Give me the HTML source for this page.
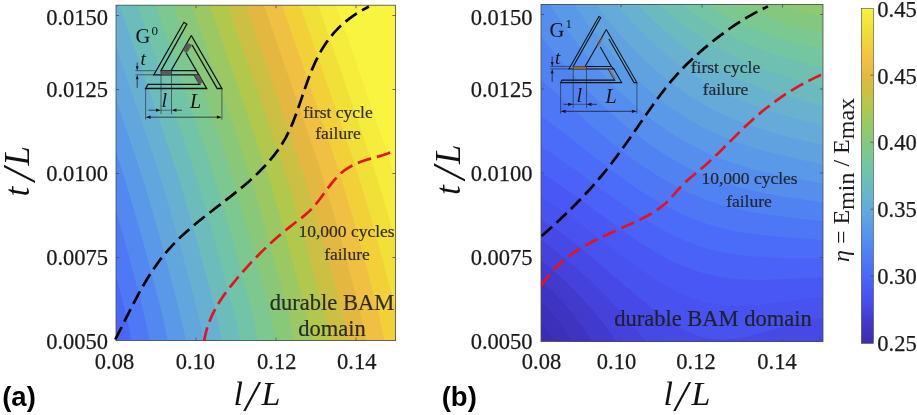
<!DOCTYPE html>
<html><head><meta charset="utf-8"><title>figure</title><style>html,body{margin:0;padding:0;background:#fff}svg{display:block}</style></head><body>
<svg width="917" height="415" viewBox="0 0 917 415">
<defs><linearGradient id="cb" x1="0" y1="0" x2="0" y2="1"><stop offset="0.0000" stop-color="#F8F440"/><stop offset="0.0180" stop-color="#F5EC3C"/><stop offset="0.0640" stop-color="#F0E038"/><stop offset="0.1100" stop-color="#F2D038"/><stop offset="0.1560" stop-color="#F0C042"/><stop offset="0.2020" stop-color="#E4B840"/><stop offset="0.2480" stop-color="#CCC044"/><stop offset="0.2940" stop-color="#B2C84C"/><stop offset="0.3400" stop-color="#9CC864"/><stop offset="0.3860" stop-color="#88C878"/><stop offset="0.4320" stop-color="#7CC890"/><stop offset="0.4780" stop-color="#72C4A8"/><stop offset="0.5240" stop-color="#6CBCBC"/><stop offset="0.5700" stop-color="#68B0D2"/><stop offset="0.6160" stop-color="#62A6DE"/><stop offset="0.6620" stop-color="#5A98E8"/><stop offset="0.7080" stop-color="#5288F0"/><stop offset="0.7540" stop-color="#4E78F6"/><stop offset="0.8000" stop-color="#4A68F8"/><stop offset="0.8340" stop-color="#495AF5"/><stop offset="0.8680" stop-color="#4850EE"/><stop offset="0.9000" stop-color="#4644E0"/><stop offset="0.9360" stop-color="#4238CC"/><stop offset="0.9680" stop-color="#3E32BC"/><stop offset="1.0000" stop-color="#3C2CB0"/></linearGradient></defs>
<rect width="917" height="415" fill="#fff"/>
<g shape-rendering="geometricPrecision"><rect x="116" y="5.2" width="279.4" height="335.4" fill="#4A68F8"/>
<path fill="#4E78F6" d="M126.0 5.2L136.0 5.2L145.9 5.2L155.9 5.2L165.9 5.2L175.9 5.2L185.8 5.2L195.8 5.2L205.8 5.2L215.8 5.2L225.8 5.2L235.7 5.2L245.7 5.2L255.7 5.2L265.7 5.2L275.7 5.2L285.6 5.2L295.6 5.2L305.6 5.2L315.6 5.2L325.5 5.2L335.5 5.2L345.5 5.2L355.5 5.2L365.5 5.2L375.4 5.2L385.4 5.2L395.4 5.2L395.4 10.2L395.4 15.2L395.4 20.2L395.4 25.2L395.4 30.2L395.4 35.2L395.4 40.2L395.4 45.2L395.4 50.3L395.4 55.3L395.4 60.3L395.4 65.3L395.4 70.3L395.4 75.3L395.4 80.3L395.4 85.3L395.4 90.3L395.4 95.3L395.4 100.3L395.4 105.3L395.4 110.3L395.4 115.3L395.4 120.3L395.4 125.3L395.4 130.3L395.4 135.4L395.4 140.4L395.4 145.4L395.4 150.4L395.4 155.4L395.4 160.4L395.4 165.4L395.4 170.4L395.4 175.4L395.4 180.4L395.4 185.4L395.4 190.4L395.4 195.4L395.4 200.4L395.4 205.4L395.4 210.4L395.4 215.5L395.4 220.5L395.4 225.5L395.4 230.5L395.4 235.5L395.4 240.5L395.4 245.5L395.4 250.5L395.4 255.5L395.4 260.5L395.4 265.5L395.4 270.5L395.4 275.5L395.4 280.5L395.4 285.5L395.4 290.5L395.4 295.5L395.4 300.6L395.4 305.6L395.4 310.6L395.4 315.6L395.4 320.6L395.4 325.6L395.4 330.6L395.4 335.6L395.4 340.6L385.4 340.6L375.4 340.6L365.5 340.6L355.5 340.6L345.5 340.6L335.5 340.6L325.5 340.6L315.6 340.6L305.6 340.6L295.6 340.6L285.6 340.6L275.7 340.6L265.7 340.6L255.7 340.6L245.7 340.6L235.7 340.6L225.8 340.6L215.8 340.6L205.8 340.6L195.8 340.6L185.8 340.6L175.9 340.6L165.9 340.6L155.9 340.6L145.9 340.6L136.0 340.6L131.4 340.6L130.5 335.6L129.6 330.6L128.5 325.6L127.4 320.6L126.3 315.6L126.0 314.3L125.1 310.6L123.8 305.6L122.5 300.6L121.2 295.5L119.9 290.5L118.6 285.5L117.2 280.5L116.0 275.9L116.0 275.5L116.0 270.5L116.0 265.5L116.0 260.5L116.0 255.5L116.0 250.5L116.0 245.5L116.0 240.5L116.0 235.5L116.0 230.5L116.0 225.5L116.0 220.5L116.0 215.5L116.0 210.4L116.0 205.4L116.0 200.4L116.0 195.4L116.0 190.4L116.0 185.4L116.0 180.4L116.0 175.4L116.0 170.4L116.0 165.4L116.0 160.4L116.0 155.4L116.0 150.4L116.0 145.4L116.0 140.4L116.0 135.4L116.0 130.3L116.0 125.3L116.0 120.3L116.0 115.3L116.0 110.3L116.0 105.3L116.0 100.3L116.0 95.3L116.0 90.3L116.0 85.3L116.0 80.3L116.0 75.3L116.0 70.3L116.0 65.3L116.0 60.3L116.0 55.3L116.0 50.3L116.0 45.2L116.0 40.2L116.0 35.2L116.0 30.2L116.0 25.2L116.0 20.2L116.0 15.2L116.0 10.2L116.0 5.2Z"/>
<path fill="#5288F0" d="M126.0 5.2L136.0 5.2L145.9 5.2L155.9 5.2L165.9 5.2L175.9 5.2L185.8 5.2L195.8 5.2L205.8 5.2L215.8 5.2L225.8 5.2L235.7 5.2L245.7 5.2L255.7 5.2L265.7 5.2L275.7 5.2L285.6 5.2L295.6 5.2L305.6 5.2L315.6 5.2L325.5 5.2L335.5 5.2L345.5 5.2L355.5 5.2L365.5 5.2L375.4 5.2L385.4 5.2L395.4 5.2L395.4 10.2L395.4 15.2L395.4 20.2L395.4 25.2L395.4 30.2L395.4 35.2L395.4 40.2L395.4 45.2L395.4 50.3L395.4 55.3L395.4 60.3L395.4 65.3L395.4 70.3L395.4 75.3L395.4 80.3L395.4 85.3L395.4 90.3L395.4 95.3L395.4 100.3L395.4 105.3L395.4 110.3L395.4 115.3L395.4 120.3L395.4 125.3L395.4 130.3L395.4 135.4L395.4 140.4L395.4 145.4L395.4 150.4L395.4 155.4L395.4 160.4L395.4 165.4L395.4 170.4L395.4 175.4L395.4 180.4L395.4 185.4L395.4 190.4L395.4 195.4L395.4 200.4L395.4 205.4L395.4 210.4L395.4 215.5L395.4 220.5L395.4 225.5L395.4 230.5L395.4 235.5L395.4 240.5L395.4 245.5L395.4 250.5L395.4 255.5L395.4 260.5L395.4 265.5L395.4 270.5L395.4 275.5L395.4 280.5L395.4 285.5L395.4 290.5L395.4 295.5L395.4 300.6L395.4 305.6L395.4 310.6L395.4 315.6L395.4 320.6L395.4 325.6L395.4 330.6L395.4 335.6L395.4 340.6L385.4 340.6L375.4 340.6L365.5 340.6L355.5 340.6L345.5 340.6L335.5 340.6L325.5 340.6L315.6 340.6L305.6 340.6L295.6 340.6L285.6 340.6L275.7 340.6L265.7 340.6L255.7 340.6L245.7 340.6L235.7 340.6L225.8 340.6L215.8 340.6L205.8 340.6L195.8 340.6L185.8 340.6L175.9 340.6L165.9 340.6L155.9 340.6L149.5 340.6L148.6 335.6L147.6 330.6L146.6 325.6L145.9 322.6L145.5 320.6L144.3 315.6L143.1 310.6L141.9 305.6L140.6 300.6L139.3 295.5L138.0 290.5L136.6 285.5L136.0 283.0L135.3 280.5L134.0 275.5L132.6 270.5L131.3 265.5L130.0 260.5L128.7 255.5L127.3 250.5L126.0 245.6L126.0 245.5L124.6 240.5L123.2 235.5L121.8 230.5L120.4 225.5L119.0 220.5L117.5 215.5L116.1 210.4L116.0 210.1L116.0 205.4L116.0 200.4L116.0 195.4L116.0 190.4L116.0 185.4L116.0 180.4L116.0 175.4L116.0 170.4L116.0 165.4L116.0 160.4L116.0 155.4L116.0 150.4L116.0 145.4L116.0 140.4L116.0 135.4L116.0 130.3L116.0 125.3L116.0 120.3L116.0 115.3L116.0 110.3L116.0 105.3L116.0 100.3L116.0 95.3L116.0 90.3L116.0 85.3L116.0 80.3L116.0 75.3L116.0 70.3L116.0 65.3L116.0 60.3L116.0 55.3L116.0 50.3L116.0 45.2L116.0 40.2L116.0 35.2L116.0 30.2L116.0 25.2L116.0 20.2L116.0 15.2L116.0 10.2L116.0 5.2Z"/>
<path fill="#5A98E8" d="M126.0 5.2L136.0 5.2L145.9 5.2L155.9 5.2L165.9 5.2L175.9 5.2L185.8 5.2L195.8 5.2L205.8 5.2L215.8 5.2L225.8 5.2L235.7 5.2L245.7 5.2L255.7 5.2L265.7 5.2L275.7 5.2L285.6 5.2L295.6 5.2L305.6 5.2L315.6 5.2L325.5 5.2L335.5 5.2L345.5 5.2L355.5 5.2L365.5 5.2L375.4 5.2L385.4 5.2L395.4 5.2L395.4 10.2L395.4 15.2L395.4 20.2L395.4 25.2L395.4 30.2L395.4 35.2L395.4 40.2L395.4 45.2L395.4 50.3L395.4 55.3L395.4 60.3L395.4 65.3L395.4 70.3L395.4 75.3L395.4 80.3L395.4 85.3L395.4 90.3L395.4 95.3L395.4 100.3L395.4 105.3L395.4 110.3L395.4 115.3L395.4 120.3L395.4 125.3L395.4 130.3L395.4 135.4L395.4 140.4L395.4 145.4L395.4 150.4L395.4 155.4L395.4 160.4L395.4 165.4L395.4 170.4L395.4 175.4L395.4 180.4L395.4 185.4L395.4 190.4L395.4 195.4L395.4 200.4L395.4 205.4L395.4 210.4L395.4 215.5L395.4 220.5L395.4 225.5L395.4 230.5L395.4 235.5L395.4 240.5L395.4 245.5L395.4 250.5L395.4 255.5L395.4 260.5L395.4 265.5L395.4 270.5L395.4 275.5L395.4 280.5L395.4 285.5L395.4 290.5L395.4 295.5L395.4 300.6L395.4 305.6L395.4 310.6L395.4 315.6L395.4 320.6L395.4 325.6L395.4 330.6L395.4 335.6L395.4 340.6L385.4 340.6L375.4 340.6L365.5 340.6L355.5 340.6L345.5 340.6L335.5 340.6L325.5 340.6L315.6 340.6L305.6 340.6L295.6 340.6L285.6 340.6L275.7 340.6L265.7 340.6L255.7 340.6L245.7 340.6L235.7 340.6L225.8 340.6L215.8 340.6L205.8 340.6L195.8 340.6L185.8 340.6L175.9 340.6L167.5 340.6L166.6 335.6L165.9 331.7L165.7 330.6L164.6 325.6L163.5 320.6L162.4 315.6L161.2 310.6L159.9 305.6L158.6 300.6L157.3 295.5L156.0 290.5L155.9 290.2L154.7 285.5L153.3 280.5L152.0 275.5L150.7 270.5L149.4 265.5L148.1 260.5L146.7 255.5L145.9 252.6L145.4 250.5L144.0 245.5L142.6 240.5L141.2 235.5L139.9 230.5L138.4 225.5L137.0 220.5L136.0 216.7L135.6 215.5L134.1 210.4L132.7 205.4L131.2 200.4L129.7 195.4L128.2 190.4L126.7 185.4L126.0 183.1L125.2 180.4L123.6 175.4L122.0 170.4L120.4 165.4L118.8 160.4L117.1 155.4L116.0 152.1L116.0 150.4L116.0 145.4L116.0 140.4L116.0 135.4L116.0 130.3L116.0 125.3L116.0 120.3L116.0 115.3L116.0 110.3L116.0 105.3L116.0 100.3L116.0 95.3L116.0 90.3L116.0 85.3L116.0 80.3L116.0 75.3L116.0 70.3L116.0 65.3L116.0 60.3L116.0 55.3L116.0 50.3L116.0 45.2L116.0 40.2L116.0 35.2L116.0 30.2L116.0 25.2L116.0 20.2L116.0 15.2L116.0 10.2L116.0 5.2Z"/>
<path fill="#62A6DE" d="M126.0 5.2L136.0 5.2L145.9 5.2L155.9 5.2L165.9 5.2L175.9 5.2L185.8 5.2L195.8 5.2L205.8 5.2L215.8 5.2L225.8 5.2L235.7 5.2L245.7 5.2L255.7 5.2L265.7 5.2L275.7 5.2L285.6 5.2L295.6 5.2L305.6 5.2L315.6 5.2L325.5 5.2L335.5 5.2L345.5 5.2L355.5 5.2L365.5 5.2L375.4 5.2L385.4 5.2L395.4 5.2L395.4 10.2L395.4 15.2L395.4 20.2L395.4 25.2L395.4 30.2L395.4 35.2L395.4 40.2L395.4 45.2L395.4 50.3L395.4 55.3L395.4 60.3L395.4 65.3L395.4 70.3L395.4 75.3L395.4 80.3L395.4 85.3L395.4 90.3L395.4 95.3L395.4 100.3L395.4 105.3L395.4 110.3L395.4 115.3L395.4 120.3L395.4 125.3L395.4 130.3L395.4 135.4L395.4 140.4L395.4 145.4L395.4 150.4L395.4 155.4L395.4 160.4L395.4 165.4L395.4 170.4L395.4 175.4L395.4 180.4L395.4 185.4L395.4 190.4L395.4 195.4L395.4 200.4L395.4 205.4L395.4 210.4L395.4 215.5L395.4 220.5L395.4 225.5L395.4 230.5L395.4 235.5L395.4 240.5L395.4 245.5L395.4 250.5L395.4 255.5L395.4 260.5L395.4 265.5L395.4 270.5L395.4 275.5L395.4 280.5L395.4 285.5L395.4 290.5L395.4 295.5L395.4 300.6L395.4 305.6L395.4 310.6L395.4 315.6L395.4 320.6L395.4 325.6L395.4 330.6L395.4 335.6L395.4 340.6L385.4 340.6L375.4 340.6L365.5 340.6L355.5 340.6L345.5 340.6L335.5 340.6L325.5 340.6L315.6 340.6L305.6 340.6L295.6 340.6L285.6 340.6L275.7 340.6L265.7 340.6L255.7 340.6L245.7 340.6L235.7 340.6L225.8 340.6L215.8 340.6L205.8 340.6L195.8 340.6L185.8 340.6L185.6 340.6L184.7 335.6L183.7 330.6L182.7 325.6L181.6 320.6L180.4 315.6L179.2 310.6L178.0 305.6L176.7 300.6L175.9 297.4L175.4 295.5L174.1 290.5L172.7 285.5L171.4 280.5L170.1 275.5L168.7 270.5L167.4 265.5L166.1 260.5L165.9 259.7L164.8 255.5L163.4 250.5L162.1 245.5L160.7 240.5L159.3 235.5L157.9 230.5L156.5 225.5L155.9 223.4L155.1 220.5L153.6 215.5L152.2 210.4L150.7 205.4L149.3 200.4L147.8 195.4L146.3 190.4L145.9 189.3L144.8 185.4L143.2 180.4L141.7 175.4L140.1 170.4L138.5 165.4L136.8 160.4L136.0 157.8L135.2 155.4L133.5 150.4L131.8 145.4L130.1 140.4L128.3 135.4L126.6 130.3L126.0 128.5L124.9 125.3L123.1 120.3L121.4 115.3L119.7 110.3L117.9 105.3L116.2 100.3L116.0 99.7L116.0 95.3L116.0 90.3L116.0 85.3L116.0 80.3L116.0 75.3L116.0 70.3L116.0 65.3L116.0 60.3L116.0 55.3L116.0 50.3L116.0 45.2L116.0 40.2L116.0 35.2L116.0 30.2L116.0 25.2L116.0 20.2L116.0 15.2L116.0 10.2L116.0 5.2Z"/>
<path fill="#68B0D2" d="M126.0 5.2L136.0 5.2L145.9 5.2L155.9 5.2L165.9 5.2L175.9 5.2L185.8 5.2L195.8 5.2L205.8 5.2L215.8 5.2L225.8 5.2L235.7 5.2L245.7 5.2L255.7 5.2L265.7 5.2L275.7 5.2L285.6 5.2L295.6 5.2L305.6 5.2L315.6 5.2L325.5 5.2L335.5 5.2L345.5 5.2L355.5 5.2L365.5 5.2L375.4 5.2L385.4 5.2L395.4 5.2L395.4 10.2L395.4 15.2L395.4 20.2L395.4 25.2L395.4 30.2L395.4 35.2L395.4 40.2L395.4 45.2L395.4 50.3L395.4 55.3L395.4 60.3L395.4 65.3L395.4 70.3L395.4 75.3L395.4 80.3L395.4 85.3L395.4 90.3L395.4 95.3L395.4 100.3L395.4 105.3L395.4 110.3L395.4 115.3L395.4 120.3L395.4 125.3L395.4 130.3L395.4 135.4L395.4 140.4L395.4 145.4L395.4 150.4L395.4 155.4L395.4 160.4L395.4 165.4L395.4 170.4L395.4 175.4L395.4 180.4L395.4 185.4L395.4 190.4L395.4 195.4L395.4 200.4L395.4 205.4L395.4 210.4L395.4 215.5L395.4 220.5L395.4 225.5L395.4 230.5L395.4 235.5L395.4 240.5L395.4 245.5L395.4 250.5L395.4 255.5L395.4 260.5L395.4 265.5L395.4 270.5L395.4 275.5L395.4 280.5L395.4 285.5L395.4 290.5L395.4 295.5L395.4 300.6L395.4 305.6L395.4 310.6L395.4 315.6L395.4 320.6L395.4 325.6L395.4 330.6L395.4 335.6L395.4 340.6L385.4 340.6L375.4 340.6L365.5 340.6L355.5 340.6L345.5 340.6L335.5 340.6L325.5 340.6L315.6 340.6L305.6 340.6L295.6 340.6L285.6 340.6L275.7 340.6L265.7 340.6L255.7 340.6L245.7 340.6L235.7 340.6L225.8 340.6L215.8 340.6L205.8 340.6L203.6 340.6L202.7 335.6L201.8 330.6L200.7 325.6L199.6 320.6L198.5 315.6L197.3 310.6L196.0 305.6L195.8 304.8L194.7 300.6L193.4 295.5L192.1 290.5L190.8 285.5L189.4 280.5L188.1 275.5L186.8 270.5L185.8 266.9L185.5 265.5L184.2 260.5L182.8 255.5L181.5 250.5L180.1 245.5L178.7 240.5L177.3 235.5L176.0 230.5L175.9 230.2L174.5 225.5L173.1 220.5L171.7 215.5L170.2 210.4L168.8 205.4L167.3 200.4L165.9 195.7L165.8 195.4L164.3 190.4L162.8 185.4L161.3 180.4L159.7 175.4L158.1 170.4L156.5 165.4L155.9 163.6L154.9 160.4L153.2 155.4L151.5 150.4L149.8 145.4L148.1 140.4L146.4 135.4L145.9 134.0L144.7 130.3L142.9 125.3L141.2 120.3L139.5 115.3L137.7 110.3L136.0 105.3L136.0 105.2L134.3 100.3L132.6 95.3L130.8 90.3L129.1 85.3L127.4 80.3L126.0 76.1L125.7 75.3L124.0 70.3L122.3 65.3L120.5 60.3L118.8 55.3L117.1 50.3L116.0 47.1L116.0 45.2L116.0 40.2L116.0 35.2L116.0 30.2L116.0 25.2L116.0 20.2L116.0 15.2L116.0 10.2L116.0 5.2Z"/>
<path fill="#6CBCBC" d="M126.0 5.2L136.0 5.2L145.9 5.2L155.9 5.2L165.9 5.2L175.9 5.2L185.8 5.2L195.8 5.2L205.8 5.2L215.8 5.2L225.8 5.2L235.7 5.2L245.7 5.2L255.7 5.2L265.7 5.2L275.7 5.2L285.6 5.2L295.6 5.2L305.6 5.2L315.6 5.2L325.5 5.2L335.5 5.2L345.5 5.2L355.5 5.2L365.5 5.2L375.4 5.2L385.4 5.2L395.4 5.2L395.4 10.2L395.4 15.2L395.4 20.2L395.4 25.2L395.4 30.2L395.4 35.2L395.4 40.2L395.4 45.2L395.4 50.3L395.4 55.3L395.4 60.3L395.4 65.3L395.4 70.3L395.4 75.3L395.4 80.3L395.4 85.3L395.4 90.3L395.4 95.3L395.4 100.3L395.4 105.3L395.4 110.3L395.4 115.3L395.4 120.3L395.4 125.3L395.4 130.3L395.4 135.4L395.4 140.4L395.4 145.4L395.4 150.4L395.4 155.4L395.4 160.4L395.4 165.4L395.4 170.4L395.4 175.4L395.4 180.4L395.4 185.4L395.4 190.4L395.4 195.4L395.4 200.4L395.4 205.4L395.4 210.4L395.4 215.5L395.4 220.5L395.4 225.5L395.4 230.5L395.4 235.5L395.4 240.5L395.4 245.5L395.4 250.5L395.4 255.5L395.4 260.5L395.4 265.5L395.4 270.5L395.4 275.5L395.4 280.5L395.4 285.5L395.4 290.5L395.4 295.5L395.4 300.6L395.4 305.6L395.4 310.6L395.4 315.6L395.4 320.6L395.4 325.6L395.4 330.6L395.4 335.6L395.4 340.6L385.4 340.6L375.4 340.6L365.5 340.6L355.5 340.6L345.5 340.6L335.5 340.6L325.5 340.6L315.6 340.6L305.6 340.6L295.6 340.6L285.6 340.6L275.7 340.6L265.7 340.6L255.7 340.6L245.7 340.6L235.7 340.6L225.8 340.6L221.7 340.6L220.8 335.6L219.8 330.6L218.8 325.6L217.7 320.6L216.5 315.6L215.8 312.5L215.3 310.6L214.1 305.6L212.8 300.6L211.5 295.5L210.2 290.5L208.8 285.5L207.5 280.5L206.2 275.5L205.8 274.2L204.8 270.5L203.5 265.5L202.2 260.5L200.9 255.5L199.5 250.5L198.2 245.5L196.8 240.5L195.8 237.0L195.4 235.5L194.0 230.5L192.6 225.5L191.2 220.5L189.7 215.5L188.3 210.4L186.8 205.4L185.8 202.1L185.4 200.4L183.9 195.4L182.4 190.4L180.9 185.4L179.3 180.4L177.8 175.4L176.2 170.4L175.9 169.5L174.6 165.4L172.9 160.4L171.3 155.4L169.6 150.4L167.9 145.4L166.2 140.4L165.9 139.6L164.4 135.4L162.7 130.3L161.0 125.3L159.2 120.3L157.5 115.3L155.9 110.7L155.8 110.3L154.0 105.3L152.3 100.3L150.6 95.3L148.9 90.3L147.2 85.3L145.9 81.7L145.5 80.3L143.8 75.3L142.0 70.3L140.3 65.3L138.6 60.3L136.9 55.3L136.0 52.7L135.1 50.3L133.4 45.2L131.7 40.2L129.9 35.2L128.2 30.2L126.4 25.2L126.0 23.9L124.7 20.2L123.0 15.2L121.2 10.2L119.5 5.2Z"/>
<path fill="#72C4A8" d="M145.9 5.2L155.9 5.2L165.9 5.2L175.9 5.2L185.8 5.2L195.8 5.2L205.8 5.2L215.8 5.2L225.8 5.2L235.7 5.2L245.7 5.2L255.7 5.2L265.7 5.2L275.7 5.2L285.6 5.2L295.6 5.2L305.6 5.2L315.6 5.2L325.5 5.2L335.5 5.2L345.5 5.2L355.5 5.2L365.5 5.2L375.4 5.2L385.4 5.2L395.4 5.2L395.4 10.2L395.4 15.2L395.4 20.2L395.4 25.2L395.4 30.2L395.4 35.2L395.4 40.2L395.4 45.2L395.4 50.3L395.4 55.3L395.4 60.3L395.4 65.3L395.4 70.3L395.4 75.3L395.4 80.3L395.4 85.3L395.4 90.3L395.4 95.3L395.4 100.3L395.4 105.3L395.4 110.3L395.4 115.3L395.4 120.3L395.4 125.3L395.4 130.3L395.4 135.4L395.4 140.4L395.4 145.4L395.4 150.4L395.4 155.4L395.4 160.4L395.4 165.4L395.4 170.4L395.4 175.4L395.4 180.4L395.4 185.4L395.4 190.4L395.4 195.4L395.4 200.4L395.4 205.4L395.4 210.4L395.4 215.5L395.4 220.5L395.4 225.5L395.4 230.5L395.4 235.5L395.4 240.5L395.4 245.5L395.4 250.5L395.4 255.5L395.4 260.5L395.4 265.5L395.4 270.5L395.4 275.5L395.4 280.5L395.4 285.5L395.4 290.5L395.4 295.5L395.4 300.6L395.4 305.6L395.4 310.6L395.4 315.6L395.4 320.6L395.4 325.6L395.4 330.6L395.4 335.6L395.4 340.6L385.4 340.6L375.4 340.6L365.5 340.6L355.5 340.6L345.5 340.6L335.5 340.6L325.5 340.6L315.6 340.6L305.6 340.6L295.6 340.6L285.6 340.6L275.7 340.6L265.7 340.6L255.7 340.6L245.7 340.6L239.7 340.6L238.8 335.6L237.9 330.6L236.8 325.6L235.7 320.6L235.7 320.6L234.6 315.6L233.4 310.6L232.1 305.6L230.8 300.6L229.5 295.5L228.2 290.5L226.9 285.5L225.8 281.4L225.5 280.5L224.2 275.5L222.9 270.5L221.6 265.5L220.3 260.5L218.9 255.5L217.6 250.5L216.2 245.5L215.8 244.0L214.8 240.5L213.4 235.5L212.1 230.5L210.6 225.5L209.2 220.5L207.8 215.5L206.3 210.4L205.8 208.6L204.9 205.4L203.4 200.4L201.9 195.4L200.4 190.4L198.9 185.4L197.4 180.4L195.8 175.5L195.8 175.4L194.2 170.4L192.6 165.4L191.0 160.4L189.3 155.4L187.6 150.4L185.9 145.4L185.8 145.1L184.2 140.4L182.5 135.4L180.8 130.3L179.0 125.3L177.3 120.3L175.9 116.2L175.6 115.3L173.8 110.3L172.1 105.3L170.4 100.3L168.7 95.3L166.9 90.3L165.9 87.2L165.2 85.3L163.5 80.3L161.8 75.3L160.1 70.3L158.4 65.3L156.6 60.3L155.9 58.2L154.9 55.3L153.2 50.3L151.4 45.2L149.7 40.2L148.0 35.2L146.2 30.2L145.9 29.4L144.5 25.2L142.8 20.2L141.0 15.2L139.3 10.2L137.5 5.2Z"/>
<path fill="#7CC890" d="M155.9 5.2L165.9 5.2L175.9 5.2L185.8 5.2L195.8 5.2L205.8 5.2L215.8 5.2L225.8 5.2L235.7 5.2L245.7 5.2L255.7 5.2L265.7 5.2L275.7 5.2L285.6 5.2L295.6 5.2L305.6 5.2L315.6 5.2L325.5 5.2L335.5 5.2L345.5 5.2L355.5 5.2L365.5 5.2L375.4 5.2L385.4 5.2L395.4 5.2L395.4 10.2L395.4 15.2L395.4 20.2L395.4 25.2L395.4 30.2L395.4 35.2L395.4 40.2L395.4 45.2L395.4 50.3L395.4 55.3L395.4 60.3L395.4 65.3L395.4 70.3L395.4 75.3L395.4 80.3L395.4 85.3L395.4 90.3L395.4 95.3L395.4 100.3L395.4 105.3L395.4 110.3L395.4 115.3L395.4 120.3L395.4 125.3L395.4 130.3L395.4 135.4L395.4 140.4L395.4 145.4L395.4 150.4L395.4 155.4L395.4 160.4L395.4 165.4L395.4 170.4L395.4 175.4L395.4 180.4L395.4 185.4L395.4 190.4L395.4 195.4L395.4 200.4L395.4 205.4L395.4 210.4L395.4 215.5L395.4 220.5L395.4 225.5L395.4 230.5L395.4 235.5L395.4 240.5L395.4 245.5L395.4 250.5L395.4 255.5L395.4 260.5L395.4 265.5L395.4 270.5L395.4 275.5L395.4 280.5L395.4 285.5L395.4 290.5L395.4 295.5L395.4 300.6L395.4 305.6L395.4 310.6L395.4 315.6L395.4 320.6L395.4 325.6L395.4 330.6L395.4 335.6L395.4 340.6L385.4 340.6L375.4 340.6L365.5 340.6L355.5 340.6L345.5 340.6L335.5 340.6L325.5 340.6L315.6 340.6L305.6 340.6L295.6 340.6L285.6 340.6L275.7 340.6L265.7 340.6L257.8 340.6L256.9 335.6L255.9 330.6L255.7 329.5L254.9 325.6L253.8 320.6L252.6 315.6L251.4 310.6L250.2 305.6L248.9 300.6L247.6 295.5L246.3 290.5L245.7 288.5L244.9 285.5L243.6 280.5L242.3 275.5L240.9 270.5L239.6 265.5L238.3 260.5L237.0 255.5L235.7 251.0L235.6 250.5L234.3 245.5L232.9 240.5L231.5 235.5L230.1 230.5L228.7 225.5L227.3 220.5L225.8 215.5L225.8 215.2L224.4 210.4L222.9 205.4L221.5 200.4L220.0 195.4L218.5 190.4L217.0 185.4L215.8 181.6L215.4 180.4L213.9 175.4L212.3 170.4L210.7 165.4L209.0 160.4L207.4 155.4L205.8 150.8L205.7 150.4L204.0 145.4L202.3 140.4L200.5 135.4L198.8 130.3L197.1 125.3L195.8 121.7L195.3 120.3L193.6 115.3L191.9 110.3L190.1 105.3L188.4 100.3L186.7 95.3L185.8 92.8L185.0 90.3L183.3 85.3L181.6 80.3L179.9 75.3L178.1 70.3L176.4 65.3L175.9 63.7L174.7 60.3L173.0 55.3L171.2 50.3L169.5 45.2L167.8 40.2L166.0 35.2L165.9 34.9L164.3 30.2L162.5 25.2L160.8 20.2L159.1 15.2L157.3 10.2L155.9 6.2L155.6 5.2Z"/>
<path fill="#88C878" d="M175.9 5.2L185.8 5.2L195.8 5.2L205.8 5.2L215.8 5.2L225.8 5.2L235.7 5.2L245.7 5.2L255.7 5.2L265.7 5.2L275.7 5.2L285.6 5.2L295.6 5.2L305.6 5.2L315.6 5.2L325.5 5.2L335.5 5.2L345.5 5.2L355.5 5.2L365.5 5.2L375.4 5.2L385.4 5.2L395.4 5.2L395.4 10.2L395.4 15.2L395.4 20.2L395.4 25.2L395.4 30.2L395.4 35.2L395.4 40.2L395.4 45.2L395.4 50.3L395.4 55.3L395.4 60.3L395.4 65.3L395.4 70.3L395.4 75.3L395.4 80.3L395.4 85.3L395.4 90.3L395.4 95.3L395.4 100.3L395.4 105.3L395.4 110.3L395.4 115.3L395.4 120.3L395.4 125.3L395.4 130.3L395.4 135.4L395.4 140.4L395.4 145.4L395.4 150.4L395.4 155.4L395.4 160.4L395.4 165.4L395.4 170.4L395.4 175.4L395.4 180.4L395.4 185.4L395.4 190.4L395.4 195.4L395.4 200.4L395.4 205.4L395.4 210.4L395.4 215.5L395.4 220.5L395.4 225.5L395.4 230.5L395.4 235.5L395.4 240.5L395.4 245.5L395.4 250.5L395.4 255.5L395.4 260.5L395.4 265.5L395.4 270.5L395.4 275.5L395.4 280.5L395.4 285.5L395.4 290.5L395.4 295.5L395.4 300.6L395.4 305.6L395.4 310.6L395.4 315.6L395.4 320.6L395.4 325.6L395.4 330.6L395.4 335.6L395.4 340.6L385.4 340.6L375.4 340.6L365.5 340.6L355.5 340.6L345.5 340.6L335.5 340.6L325.5 340.6L315.6 340.6L305.6 340.6L295.6 340.6L285.6 340.6L275.8 340.6L275.7 339.7L274.9 335.6L274.0 330.6L272.9 325.6L271.8 320.6L270.7 315.6L269.5 310.6L268.2 305.6L266.9 300.6L265.7 295.7L265.6 295.5L264.3 290.5L263.0 285.5L261.6 280.5L260.3 275.5L259.0 270.5L257.7 265.5L256.4 260.5L255.7 258.1L255.0 255.5L253.7 250.5L252.3 245.5L250.9 240.5L249.5 235.5L248.2 230.5L246.7 225.5L245.7 221.8L245.3 220.5L243.9 215.5L242.4 210.4L241.0 205.4L239.5 200.4L238.0 195.4L236.5 190.4L235.7 187.9L235.0 185.4L233.5 180.4L231.9 175.4L230.3 170.4L228.7 165.4L227.1 160.4L225.8 156.5L225.4 155.4L223.7 150.4L222.0 145.4L220.3 140.4L218.6 135.4L216.9 130.3L215.8 127.2L215.1 125.3L213.4 120.3L211.7 115.3L209.9 110.3L208.2 105.3L206.5 100.3L205.8 98.4L204.8 95.3L203.0 90.3L201.3 85.3L199.6 80.3L197.9 75.3L196.2 70.3L195.8 69.3L194.5 65.3L192.7 60.3L191.0 55.3L189.3 50.3L187.5 45.2L185.8 40.4L185.8 40.2L184.1 35.2L182.3 30.2L180.6 25.2L178.9 20.2L177.1 15.2L175.9 11.6L175.4 10.2L173.6 5.2Z"/>
<path fill="#9CC864" d="M195.8 5.2L205.8 5.2L215.8 5.2L225.8 5.2L235.7 5.2L245.7 5.2L255.7 5.2L265.7 5.2L275.7 5.2L285.6 5.2L295.6 5.2L305.6 5.2L315.6 5.2L325.5 5.2L335.5 5.2L345.5 5.2L355.5 5.2L365.5 5.2L375.4 5.2L385.4 5.2L395.4 5.2L395.4 10.2L395.4 15.2L395.4 20.2L395.4 25.2L395.4 30.2L395.4 35.2L395.4 40.2L395.4 45.2L395.4 50.3L395.4 55.3L395.4 60.3L395.4 65.3L395.4 70.3L395.4 75.3L395.4 80.3L395.4 85.3L395.4 90.3L395.4 95.3L395.4 100.3L395.4 105.3L395.4 110.3L395.4 115.3L395.4 120.3L395.4 125.3L395.4 130.3L395.4 135.4L395.4 140.4L395.4 145.4L395.4 150.4L395.4 155.4L395.4 160.4L395.4 165.4L395.4 170.4L395.4 175.4L395.4 180.4L395.4 185.4L395.4 190.4L395.4 195.4L395.4 200.4L395.4 205.4L395.4 210.4L395.4 215.5L395.4 220.5L395.4 225.5L395.4 230.5L395.4 235.5L395.4 240.5L395.4 245.5L395.4 250.5L395.4 255.5L395.4 260.5L395.4 265.5L395.4 270.5L395.4 275.5L395.4 280.5L395.4 285.5L395.4 290.5L395.4 295.5L395.4 300.6L395.4 305.6L395.4 310.6L395.4 315.6L395.4 320.6L395.4 325.6L395.4 330.6L395.4 335.6L395.4 340.6L385.4 340.6L375.4 340.6L365.5 340.6L355.5 340.6L345.5 340.6L335.5 340.6L325.5 340.6L315.6 340.6L305.6 340.6L295.6 340.6L293.9 340.6L293.0 335.6L292.0 330.6L291.0 325.6L289.9 320.6L288.7 315.6L287.5 310.6L286.3 305.6L285.6 303.1L285.0 300.6L283.7 295.5L282.4 290.5L281.0 285.5L279.7 280.5L278.4 275.5L277.0 270.5L275.7 265.5L275.7 265.2L274.4 260.5L273.1 255.5L271.7 250.5L270.4 245.5L269.0 240.5L267.6 235.5L266.2 230.5L265.7 228.6L264.8 225.5L263.4 220.5L261.9 215.5L260.5 210.4L259.0 205.4L257.6 200.4L256.1 195.4L255.7 194.2L254.6 190.4L253.1 185.4L251.5 180.4L250.0 175.4L248.4 170.4L246.8 165.4L245.7 162.2L245.1 160.4L243.5 155.4L241.8 150.4L240.1 145.4L238.4 140.4L236.6 135.4L235.7 132.7L234.9 130.3L233.2 125.3L231.4 120.3L229.7 115.3L228.0 110.3L226.2 105.3L225.8 103.9L224.5 100.3L222.8 95.3L221.1 90.3L219.4 85.3L217.7 80.3L216.0 75.3L215.8 74.8L214.2 70.3L212.5 65.3L210.8 60.3L209.1 55.3L207.3 50.3L205.8 45.9L205.6 45.2L203.9 40.2L202.1 35.2L200.4 30.2L198.6 25.2L196.9 20.2L195.8 17.1L195.2 15.2L193.4 10.2L191.7 5.2Z"/>
<path fill="#B2C84C" d="M215.8 5.2L225.8 5.2L235.7 5.2L245.7 5.2L255.7 5.2L265.7 5.2L275.7 5.2L285.6 5.2L295.6 5.2L305.6 5.2L315.6 5.2L325.5 5.2L335.5 5.2L345.5 5.2L355.5 5.2L365.5 5.2L375.4 5.2L385.4 5.2L395.4 5.2L395.4 10.2L395.4 15.2L395.4 20.2L395.4 25.2L395.4 30.2L395.4 35.2L395.4 40.2L395.4 45.2L395.4 50.3L395.4 55.3L395.4 60.3L395.4 65.3L395.4 70.3L395.4 75.3L395.4 80.3L395.4 85.3L395.4 90.3L395.4 95.3L395.4 100.3L395.4 105.3L395.4 110.3L395.4 115.3L395.4 120.3L395.4 125.3L395.4 130.3L395.4 135.4L395.4 140.4L395.4 145.4L395.4 150.4L395.4 155.4L395.4 160.4L395.4 165.4L395.4 170.4L395.4 175.4L395.4 180.4L395.4 185.4L395.4 190.4L395.4 195.4L395.4 200.4L395.4 205.4L395.4 210.4L395.4 215.5L395.4 220.5L395.4 225.5L395.4 230.5L395.4 235.5L395.4 240.5L395.4 245.5L395.4 250.5L395.4 255.5L395.4 260.5L395.4 265.5L395.4 270.5L395.4 275.5L395.4 280.5L395.4 285.5L395.4 290.5L395.4 295.5L395.4 300.6L395.4 305.6L395.4 310.6L395.4 315.6L395.4 320.6L395.4 325.6L395.4 330.6L395.4 335.6L395.4 340.6L385.4 340.6L375.4 340.6L365.5 340.6L355.5 340.6L345.5 340.6L335.5 340.6L325.5 340.6L315.6 340.6L311.9 340.6L311.0 335.6L310.1 330.6L309.0 325.6L307.9 320.6L306.8 315.6L305.6 310.7L305.6 310.6L304.3 305.6L303.0 300.6L301.7 295.5L300.4 290.5L299.1 285.5L297.7 280.5L296.4 275.5L295.6 272.5L295.1 270.5L293.8 265.5L292.5 260.5L291.1 255.5L289.8 250.5L288.4 245.5L287.0 240.5L285.6 235.5L285.6 235.4L284.3 230.5L282.8 225.5L281.4 220.5L280.0 215.5L278.5 210.4L277.1 205.4L275.7 200.6L275.6 200.4L274.1 195.4L272.6 190.4L271.1 185.4L269.6 180.4L268.0 175.4L266.4 170.4L265.7 168.1L264.8 165.4L263.2 160.4L261.5 155.4L259.8 150.4L258.1 145.4L256.4 140.4L255.7 138.3L254.7 135.4L253.0 130.3L251.2 125.3L249.5 120.3L247.8 115.3L246.0 110.3L245.7 109.4L244.3 105.3L242.6 100.3L240.9 95.3L239.1 90.3L237.4 85.3L235.7 80.4L235.7 80.3L234.0 75.3L232.3 70.3L230.6 65.3L228.8 60.3L227.1 55.3L225.8 51.4L225.4 50.3L223.6 45.2L221.9 40.2L220.2 35.2L218.4 30.2L216.7 25.2L215.8 22.6L215.0 20.2L213.2 15.2L211.5 10.2L209.7 5.2Z"/>
<path fill="#CCC044" d="M235.7 5.2L245.7 5.2L255.7 5.2L265.7 5.2L275.7 5.2L285.6 5.2L295.6 5.2L305.6 5.2L315.6 5.2L325.5 5.2L335.5 5.2L345.5 5.2L355.5 5.2L365.5 5.2L375.4 5.2L385.4 5.2L395.4 5.2L395.4 10.2L395.4 15.2L395.4 20.2L395.4 25.2L395.4 30.2L395.4 35.2L395.4 40.2L395.4 45.2L395.4 50.3L395.4 55.3L395.4 60.3L395.4 65.3L395.4 70.3L395.4 75.3L395.4 80.3L395.4 85.3L395.4 90.3L395.4 95.3L395.4 100.3L395.4 105.3L395.4 110.3L395.4 115.3L395.4 120.3L395.4 125.3L395.4 130.3L395.4 135.4L395.4 140.4L395.4 145.4L395.4 150.4L395.4 155.4L395.4 160.4L395.4 165.4L395.4 170.4L395.4 175.4L395.4 180.4L395.4 185.4L395.4 190.4L395.4 195.4L395.4 200.4L395.4 205.4L395.4 210.4L395.4 215.5L395.4 220.5L395.4 225.5L395.4 230.5L395.4 235.5L395.4 240.5L395.4 245.5L395.4 250.5L395.4 255.5L395.4 260.5L395.4 265.5L395.4 270.5L395.4 275.5L395.4 280.5L395.4 285.5L395.4 290.5L395.4 295.5L395.4 300.6L395.4 305.6L395.4 310.6L395.4 315.6L395.4 320.6L395.4 325.6L395.4 330.6L395.4 335.6L395.4 340.6L385.4 340.6L375.4 340.6L365.5 340.6L355.5 340.6L345.5 340.6L335.5 340.6L330.0 340.6L329.1 335.6L328.1 330.6L327.1 325.6L326.0 320.6L325.5 318.7L324.8 315.6L323.6 310.6L322.4 305.6L321.1 300.6L319.8 295.5L318.5 290.5L317.1 285.5L315.8 280.5L315.6 279.7L314.5 275.5L313.1 270.5L311.8 265.5L310.5 260.5L309.2 255.5L307.8 250.5L306.5 245.5L305.6 242.4L305.1 240.5L303.7 235.5L302.3 230.5L300.9 225.5L299.5 220.5L298.0 215.5L296.6 210.4L295.6 207.1L295.1 205.4L293.7 200.4L292.2 195.4L290.7 190.4L289.2 185.4L287.6 180.4L286.1 175.4L285.6 174.1L284.5 170.4L282.9 165.4L281.2 160.4L279.6 155.4L277.9 150.4L276.2 145.4L275.7 143.8L274.5 140.4L272.7 135.4L271.0 130.3L269.3 125.3L267.5 120.3L265.8 115.3L265.7 114.9L264.1 110.3L262.3 105.3L260.6 100.3L258.9 95.3L257.2 90.3L255.7 85.9L255.5 85.3L253.8 80.3L252.1 75.3L250.3 70.3L248.6 65.3L246.9 60.3L245.7 56.9L245.2 55.3L243.4 50.3L241.7 45.2L240.0 40.2L238.2 35.2L236.5 30.2L235.7 28.1L234.7 25.2L233.0 20.2L231.3 15.2L229.5 10.2L227.8 5.2Z"/>
<path fill="#E4B840" d="M255.7 5.2L265.7 5.2L275.7 5.2L285.6 5.2L295.6 5.2L305.6 5.2L315.6 5.2L325.5 5.2L335.5 5.2L345.5 5.2L355.5 5.2L365.5 5.2L375.4 5.2L385.4 5.2L395.4 5.2L395.4 10.2L395.4 15.2L395.4 20.2L395.4 25.2L395.4 30.2L395.4 35.2L395.4 40.2L395.4 45.2L395.4 50.3L395.4 55.3L395.4 60.3L395.4 65.3L395.4 70.3L395.4 75.3L395.4 80.3L395.4 85.3L395.4 90.3L395.4 95.3L395.4 100.3L395.4 105.3L395.4 110.3L395.4 115.3L395.4 120.3L395.4 125.3L395.4 130.3L395.4 135.4L395.4 140.4L395.4 145.4L395.4 150.4L395.4 155.4L395.4 160.4L395.4 165.4L395.4 170.4L395.4 175.4L395.4 180.4L395.4 185.4L395.4 190.4L395.4 195.4L395.4 200.4L395.4 205.4L395.4 210.4L395.4 215.5L395.4 220.5L395.4 225.5L395.4 230.5L395.4 235.5L395.4 240.5L395.4 245.5L395.4 250.5L395.4 255.5L395.4 260.5L395.4 265.5L395.4 270.5L395.4 275.5L395.4 280.5L395.4 285.5L395.4 290.5L395.4 295.5L395.4 300.6L395.4 305.6L395.4 310.6L395.4 315.6L395.4 320.6L395.4 325.6L395.4 330.6L395.4 335.6L395.4 340.6L385.4 340.6L375.4 340.6L365.5 340.6L355.5 340.6L348.0 340.6L347.1 335.6L346.2 330.6L345.5 327.3L345.1 325.6L344.0 320.6L342.9 315.6L341.7 310.6L340.4 305.6L339.1 300.6L337.8 295.5L336.5 290.5L335.5 286.9L335.2 285.5L333.8 280.5L332.5 275.5L331.2 270.5L329.9 265.5L328.6 260.5L327.2 255.5L325.9 250.5L325.5 249.3L324.5 245.5L323.1 240.5L321.7 235.5L320.4 230.5L318.9 225.5L317.5 220.5L316.1 215.5L315.6 213.6L314.6 210.4L313.2 205.4L311.7 200.4L310.2 195.4L308.7 190.4L307.2 185.4L305.7 180.4L305.6 180.2L304.1 175.4L302.5 170.4L300.9 165.4L299.3 160.4L297.6 155.4L295.9 150.4L295.6 149.5L294.2 145.4L292.5 140.4L290.8 135.4L289.1 130.3L287.3 125.3L285.6 120.4L285.6 120.3L283.9 115.3L282.1 110.3L280.4 105.3L278.7 100.3L277.0 95.3L275.7 91.5L275.2 90.3L273.5 85.3L271.8 80.3L270.1 75.3L268.4 70.3L266.7 65.3L265.7 62.4L264.9 60.3L263.2 55.3L261.5 50.3L259.7 45.2L258.0 40.2L256.3 35.2L255.7 33.6L254.5 30.2L252.8 25.2L251.1 20.2L249.3 15.2L247.6 10.2L245.8 5.2Z"/>
<path fill="#F0C042" d="M265.7 5.2L275.7 5.2L285.6 5.2L295.6 5.2L305.6 5.2L315.6 5.2L325.5 5.2L335.5 5.2L345.5 5.2L355.5 5.2L365.5 5.2L375.4 5.2L385.4 5.2L395.4 5.2L395.4 10.2L395.4 15.2L395.4 20.2L395.4 25.2L395.4 30.2L395.4 35.2L395.4 40.2L395.4 45.2L395.4 50.3L395.4 55.3L395.4 60.3L395.4 65.3L395.4 70.3L395.4 75.3L395.4 80.3L395.4 85.3L395.4 90.3L395.4 95.3L395.4 100.3L395.4 105.3L395.4 110.3L395.4 115.3L395.4 120.3L395.4 125.3L395.4 130.3L395.4 135.4L395.4 140.4L395.4 145.4L395.4 150.4L395.4 155.4L395.4 160.4L395.4 165.4L395.4 170.4L395.4 175.4L395.4 180.4L395.4 185.4L395.4 190.4L395.4 195.4L395.4 200.4L395.4 205.4L395.4 210.4L395.4 215.5L395.4 220.5L395.4 225.5L395.4 230.5L395.4 235.5L395.4 240.5L395.4 245.5L395.4 250.5L395.4 255.5L395.4 260.5L395.4 265.5L395.4 270.5L395.4 275.5L395.4 280.5L395.4 285.5L395.4 290.5L395.4 295.5L395.4 300.6L395.4 305.6L395.4 310.6L395.4 315.6L395.4 320.6L395.4 325.6L395.4 330.6L395.4 335.6L395.4 340.6L385.4 340.6L375.4 340.6L366.1 340.6L365.5 337.2L365.2 335.6L364.2 330.6L363.2 325.6L362.1 320.6L360.9 315.6L359.7 310.6L358.5 305.6L357.2 300.6L355.9 295.5L355.5 294.1L354.6 290.5L353.2 285.5L351.9 280.5L350.6 275.5L349.2 270.5L347.9 265.5L346.6 260.5L345.5 256.4L345.3 255.5L343.9 250.5L342.6 245.5L341.2 240.5L339.8 235.5L338.4 230.5L337.0 225.5L335.6 220.5L335.5 220.3L334.1 215.5L332.7 210.4L331.2 205.4L329.8 200.4L328.3 195.4L326.8 190.4L325.5 186.4L325.3 185.4L323.7 180.4L322.2 175.4L320.6 170.4L319.0 165.4L317.3 160.4L315.7 155.4L315.6 155.1L314.0 150.4L312.3 145.4L310.6 140.4L308.8 135.4L307.1 130.3L305.6 125.9L305.4 125.3L303.6 120.3L301.9 115.3L300.2 110.3L298.4 105.3L296.7 100.3L295.6 97.1L295.0 95.3L293.3 90.3L291.6 85.3L289.9 80.3L288.2 75.3L286.4 70.3L285.6 68.0L284.7 65.3L283.0 60.3L281.3 55.3L279.5 50.3L277.8 45.2L276.1 40.2L275.7 39.1L274.3 35.2L272.6 30.2L270.8 25.2L269.1 20.2L267.4 15.2L265.7 10.4L265.6 10.2L263.9 5.2Z"/>
<path fill="#F2D038" d="M285.6 5.2L295.6 5.2L305.6 5.2L315.6 5.2L325.5 5.2L335.5 5.2L345.5 5.2L355.5 5.2L365.5 5.2L375.4 5.2L385.4 5.2L395.4 5.2L395.4 10.2L395.4 15.2L395.4 20.2L395.4 25.2L395.4 30.2L395.4 35.2L395.4 40.2L395.4 45.2L395.4 50.3L395.4 55.3L395.4 60.3L395.4 65.3L395.4 70.3L395.4 75.3L395.4 80.3L395.4 85.3L395.4 90.3L395.4 95.3L395.4 100.3L395.4 105.3L395.4 110.3L395.4 115.3L395.4 120.3L395.4 125.3L395.4 130.3L395.4 135.4L395.4 140.4L395.4 145.4L395.4 150.4L395.4 155.4L395.4 160.4L395.4 165.4L395.4 170.4L395.4 175.4L395.4 180.4L395.4 185.4L395.4 190.4L395.4 195.4L395.4 200.4L395.4 205.4L395.4 210.4L395.4 215.5L395.4 220.5L395.4 225.5L395.4 230.5L395.4 235.5L395.4 240.5L395.4 245.5L395.4 250.5L395.4 255.5L395.4 260.5L395.4 265.5L395.4 270.5L395.4 275.5L395.4 280.5L395.4 285.5L395.4 290.5L395.4 295.5L395.4 300.6L395.4 305.6L395.4 310.6L395.4 315.6L395.4 320.6L395.4 325.6L395.4 330.6L395.4 335.6L395.4 340.6L385.4 340.6L384.1 340.6L383.2 335.6L382.3 330.6L381.2 325.6L380.1 320.6L379.0 315.6L377.8 310.6L376.5 305.6L375.4 301.4L375.2 300.6L373.9 295.5L372.6 290.5L371.3 285.5L369.9 280.5L368.6 275.5L367.3 270.5L366.0 265.5L365.5 263.6L364.7 260.5L363.3 255.5L362.0 250.5L360.6 245.5L359.2 240.5L357.8 235.5L356.5 230.5L355.5 227.0L355.0 225.5L353.6 220.5L352.2 215.5L350.7 210.4L349.3 205.4L347.8 200.4L346.3 195.4L345.5 192.7L344.8 190.4L343.3 185.4L341.8 180.4L340.2 175.4L338.6 170.4L337.0 165.4L335.5 160.9L335.4 160.4L333.7 155.4L332.0 150.4L330.3 145.4L328.6 140.4L326.9 135.4L325.5 131.4L325.2 130.3L323.4 125.3L321.7 120.3L320.0 115.3L318.2 110.3L316.5 105.3L315.6 102.6L314.8 100.3L313.1 95.3L311.3 90.3L309.6 85.3L307.9 80.3L306.2 75.3L305.6 73.5L304.5 70.3L302.8 65.3L301.0 60.3L299.3 55.3L297.6 50.3L295.8 45.2L295.6 44.6L294.1 40.2L292.4 35.2L290.6 30.2L288.9 25.2L287.2 20.2L285.6 15.8L285.4 15.2L283.7 10.2L281.9 5.2Z"/>
<path fill="#F0E038" d="M305.6 5.2L315.6 5.2L325.5 5.2L335.5 5.2L345.5 5.2L355.5 5.2L365.5 5.2L375.4 5.2L385.4 5.2L395.4 5.2L395.4 10.2L395.4 15.2L395.4 20.2L395.4 25.2L395.4 30.2L395.4 35.2L395.4 40.2L395.4 45.2L395.4 50.3L395.4 55.3L395.4 60.3L395.4 65.3L395.4 70.3L395.4 75.3L395.4 80.3L395.4 85.3L395.4 90.3L395.4 95.3L395.4 100.3L395.4 105.3L395.4 110.3L395.4 115.3L395.4 120.3L395.4 125.3L395.4 130.3L395.4 135.4L395.4 140.4L395.4 145.4L395.4 150.4L395.4 155.4L395.4 160.4L395.4 165.4L395.4 170.4L395.4 175.4L395.4 180.4L395.4 185.4L395.4 190.4L395.4 195.4L395.4 200.4L395.4 205.4L395.4 210.4L395.4 215.5L395.4 220.5L395.4 225.5L395.4 230.5L395.4 235.5L395.4 240.5L395.4 245.5L395.4 250.5L395.4 255.5L395.4 260.5L395.4 265.5L395.4 270.5L395.4 275.5L395.4 280.5L395.4 285.5L395.4 290.5L395.4 295.5L395.4 300.6L395.4 305.6L395.4 308.9L394.6 305.6L393.3 300.6L392.0 295.5L390.7 290.5L389.3 285.5L388.0 280.5L386.7 275.5L385.4 270.8L385.3 270.5L384.0 265.5L382.7 260.5L381.4 255.5L380.0 250.5L378.7 245.5L377.3 240.5L375.9 235.5L375.4 233.8L374.5 230.5L373.1 225.5L371.7 220.5L370.2 215.5L368.8 210.4L367.3 205.4L365.9 200.4L365.5 199.1L364.4 195.4L362.9 190.4L361.4 185.4L359.8 180.4L358.3 175.4L356.7 170.4L355.5 166.7L355.1 165.4L353.4 160.4L351.8 155.4L350.1 150.4L348.4 145.4L346.7 140.4L345.5 137.0L344.9 135.4L343.2 130.3L341.5 125.3L339.7 120.3L338.0 115.3L336.3 110.3L335.5 108.2L334.5 105.3L332.8 100.3L331.1 95.3L329.4 90.3L327.7 85.3L326.0 80.3L325.5 79.1L324.3 75.3L322.5 70.3L320.8 65.3L319.1 60.3L317.4 55.3L315.6 50.3L315.6 50.1L313.9 45.2L312.2 40.2L310.4 35.2L308.7 30.2L306.9 25.2L305.6 21.3L305.2 20.2L303.5 15.2L301.7 10.2L300.0 5.2Z"/>
<path fill="#F5EC3C" d="M325.5 5.2L335.5 5.2L345.5 5.2L355.5 5.2L365.5 5.2L375.4 5.2L385.4 5.2L395.4 5.2L395.4 10.2L395.4 15.2L395.4 20.2L395.4 25.2L395.4 30.2L395.4 35.2L395.4 40.2L395.4 45.2L395.4 50.3L395.4 55.3L395.4 60.3L395.4 65.3L395.4 70.3L395.4 75.3L395.4 80.3L395.4 85.3L395.4 90.3L395.4 95.3L395.4 100.3L395.4 105.3L395.4 110.3L395.4 115.3L395.4 120.3L395.4 125.3L395.4 130.3L395.4 135.4L395.4 140.4L395.4 145.4L395.4 150.4L395.4 155.4L395.4 160.4L395.4 165.4L395.4 170.4L395.4 175.4L395.4 180.4L395.4 185.4L395.4 190.4L395.4 195.4L395.4 200.4L395.4 205.4L395.4 210.4L395.4 215.5L395.4 220.5L395.4 225.5L395.4 230.5L395.4 235.5L395.4 240.5L395.4 240.7L395.3 240.5L393.9 235.5L392.6 230.5L391.1 225.5L389.7 220.5L388.3 215.5L386.8 210.4L385.4 205.6L385.4 205.4L383.9 200.4L382.4 195.4L380.9 190.4L379.4 185.4L377.9 180.4L376.3 175.4L375.4 172.7L374.7 170.4L373.1 165.4L371.5 160.4L369.8 155.4L368.1 150.4L366.4 145.4L365.5 142.5L364.7 140.4L363.0 135.4L361.3 130.3L359.5 125.3L357.8 120.3L356.1 115.3L355.5 113.7L354.3 110.3L352.6 105.3L350.9 100.3L349.2 95.3L347.4 90.3L345.7 85.3L345.5 84.6L344.0 80.3L342.3 75.3L340.6 70.3L338.9 65.3L337.1 60.3L335.5 55.6L335.4 55.3L333.7 50.3L331.9 45.2L330.2 40.2L328.5 35.2L326.7 30.2L325.5 26.8L325.0 25.2L323.3 20.2L321.5 15.2L319.8 10.2L318.0 5.2Z"/>
<path fill="#F8F440" d="M345.5 5.2L355.5 5.2L365.5 5.2L375.4 5.2L385.4 5.2L395.4 5.2L395.4 10.2L395.4 15.2L395.4 20.2L395.4 25.2L395.4 30.2L395.4 35.2L395.4 40.2L395.4 45.2L395.4 50.3L395.4 55.3L395.4 60.3L395.4 65.3L395.4 70.3L395.4 75.3L395.4 80.3L395.4 85.3L395.4 90.3L395.4 95.3L395.4 100.3L395.4 105.3L395.4 110.3L395.4 115.3L395.4 120.3L395.4 125.3L395.4 130.3L395.4 135.4L395.4 140.4L395.4 145.4L395.4 150.4L395.4 155.4L395.4 160.4L395.4 165.4L395.4 170.4L395.4 175.4L395.4 178.7L394.4 175.4L392.8 170.4L391.2 165.4L389.5 160.4L387.9 155.4L386.2 150.4L385.4 148.2L384.5 145.4L382.8 140.4L381.0 135.4L379.3 130.3L377.6 125.3L375.8 120.3L375.4 119.2L374.1 115.3L372.4 110.3L370.6 105.3L368.9 100.3L367.2 95.3L365.5 90.3L365.5 90.2L363.8 85.3L362.1 80.3L360.4 75.3L358.6 70.3L356.9 65.3L355.5 61.1L355.2 60.3L353.5 55.3L351.7 50.3L350.0 45.2L348.3 40.2L346.5 35.2L345.5 32.3L344.8 30.2L343.0 25.2L341.3 20.2L339.6 15.2L337.8 10.2L336.1 5.2Z"/></g>
<g><rect x="541" y="4.5" width="282" height="337" fill="#3C2CB0"/>
<path fill="#3D30B8" d="M547.0 4.5L553.0 4.5L559.0 4.5L565.0 4.5L571.0 4.5L577.0 4.5L583.0 4.5L589.0 4.5L595.0 4.5L601.0 4.5L607.0 4.5L613.0 4.5L619.0 4.5L625.0 4.5L631.0 4.5L637.0 4.5L643.0 4.5L649.0 4.5L655.0 4.5L661.0 4.5L667.0 4.5L673.0 4.5L679.0 4.5L685.0 4.5L691.0 4.5L697.0 4.5L703.0 4.5L709.0 4.5L715.0 4.5L721.0 4.5L727.0 4.5L733.0 4.5L739.0 4.5L745.0 4.5L751.0 4.5L757.0 4.5L763.0 4.5L769.0 4.5L775.0 4.5L781.0 4.5L787.0 4.5L793.0 4.5L799.0 4.5L805.0 4.5L811.0 4.5L817.0 4.5L823.0 4.5L823.0 10.5L823.0 16.5L823.0 22.6L823.0 28.6L823.0 34.6L823.0 40.6L823.0 46.6L823.0 52.6L823.0 58.7L823.0 64.7L823.0 70.7L823.0 76.7L823.0 82.7L823.0 88.8L823.0 94.8L823.0 100.8L823.0 106.8L823.0 112.8L823.0 118.8L823.0 124.9L823.0 130.9L823.0 136.9L823.0 142.9L823.0 148.9L823.0 154.9L823.0 161.0L823.0 167.0L823.0 173.0L823.0 179.0L823.0 185.0L823.0 191.1L823.0 197.1L823.0 203.1L823.0 209.1L823.0 215.1L823.0 221.1L823.0 227.2L823.0 233.2L823.0 239.2L823.0 245.2L823.0 251.2L823.0 257.2L823.0 263.3L823.0 269.3L823.0 275.3L823.0 281.3L823.0 287.3L823.0 293.4L823.0 299.4L823.0 305.4L823.0 311.4L823.0 317.4L823.0 323.4L823.0 329.5L823.0 335.5L823.0 341.5L817.0 341.5L811.0 341.5L805.0 341.5L799.0 341.5L793.0 341.5L787.0 341.5L781.0 341.5L775.0 341.5L769.0 341.5L763.0 341.5L757.0 341.5L751.0 341.5L745.0 341.5L739.0 341.5L733.0 341.5L727.0 341.5L721.0 341.5L715.0 341.5L709.0 341.5L703.0 341.5L697.0 341.5L691.0 341.5L685.0 341.5L679.0 341.5L673.0 341.5L667.0 341.5L661.0 341.5L655.0 341.5L649.0 341.5L643.0 341.5L637.0 341.5L631.0 341.5L625.0 341.5L619.0 341.5L613.0 341.5L607.0 341.5L601.0 341.5L595.0 341.5L589.0 341.5L583.0 341.5L577.0 341.5L571.0 341.5L565.0 341.5L559.0 341.5L554.7 341.5L553.0 338.9L550.8 335.5L547.0 330.1L546.5 329.5L542.0 323.4L541.0 322.3L541.0 317.4L541.0 311.4L541.0 305.4L541.0 299.4L541.0 293.4L541.0 287.3L541.0 281.3L541.0 275.3L541.0 269.3L541.0 263.3L541.0 257.2L541.0 251.2L541.0 245.2L541.0 239.2L541.0 233.2L541.0 227.2L541.0 221.1L541.0 215.1L541.0 209.1L541.0 203.1L541.0 197.1L541.0 191.1L541.0 185.0L541.0 179.0L541.0 173.0L541.0 167.0L541.0 161.0L541.0 154.9L541.0 148.9L541.0 142.9L541.0 136.9L541.0 130.9L541.0 124.9L541.0 118.8L541.0 112.8L541.0 106.8L541.0 100.8L541.0 94.8L541.0 88.8L541.0 82.7L541.0 76.7L541.0 70.7L541.0 64.7L541.0 58.7L541.0 52.6L541.0 46.6L541.0 40.6L541.0 34.6L541.0 28.6L541.0 22.6L541.0 16.5L541.0 10.5L541.0 4.5Z"/>
<path fill="#3F34C2" d="M547.0 4.5L553.0 4.5L559.0 4.5L565.0 4.5L571.0 4.5L577.0 4.5L583.0 4.5L589.0 4.5L595.0 4.5L601.0 4.5L607.0 4.5L613.0 4.5L619.0 4.5L625.0 4.5L631.0 4.5L637.0 4.5L643.0 4.5L649.0 4.5L655.0 4.5L661.0 4.5L667.0 4.5L673.0 4.5L679.0 4.5L685.0 4.5L691.0 4.5L697.0 4.5L703.0 4.5L709.0 4.5L715.0 4.5L721.0 4.5L727.0 4.5L733.0 4.5L739.0 4.5L745.0 4.5L751.0 4.5L757.0 4.5L763.0 4.5L769.0 4.5L775.0 4.5L781.0 4.5L787.0 4.5L793.0 4.5L799.0 4.5L805.0 4.5L811.0 4.5L817.0 4.5L823.0 4.5L823.0 10.5L823.0 16.5L823.0 22.6L823.0 28.6L823.0 34.6L823.0 40.6L823.0 46.6L823.0 52.6L823.0 58.7L823.0 64.7L823.0 70.7L823.0 76.7L823.0 82.7L823.0 88.8L823.0 94.8L823.0 100.8L823.0 106.8L823.0 112.8L823.0 118.8L823.0 124.9L823.0 130.9L823.0 136.9L823.0 142.9L823.0 148.9L823.0 154.9L823.0 161.0L823.0 167.0L823.0 173.0L823.0 179.0L823.0 185.0L823.0 191.1L823.0 197.1L823.0 203.1L823.0 209.1L823.0 215.1L823.0 221.1L823.0 227.2L823.0 233.2L823.0 239.2L823.0 245.2L823.0 251.2L823.0 257.2L823.0 263.3L823.0 269.3L823.0 275.3L823.0 281.3L823.0 287.3L823.0 293.4L823.0 299.4L823.0 305.4L823.0 311.4L823.0 317.4L823.0 323.4L823.0 329.5L823.0 335.5L823.0 341.5L817.0 341.5L811.0 341.5L805.0 341.5L799.0 341.5L793.0 341.5L787.0 341.5L781.0 341.5L775.0 341.5L769.0 341.5L763.0 341.5L757.0 341.5L751.0 341.5L745.0 341.5L739.0 341.5L733.0 341.5L727.0 341.5L721.0 341.5L715.0 341.5L709.0 341.5L703.0 341.5L697.0 341.5L691.0 341.5L685.0 341.5L679.0 341.5L673.0 341.5L667.0 341.5L661.0 341.5L655.0 341.5L649.0 341.5L643.0 341.5L637.0 341.5L631.0 341.5L625.0 341.5L619.0 341.5L613.0 341.5L607.0 341.5L601.0 341.5L595.0 341.5L589.0 341.5L583.0 341.5L577.0 341.5L572.3 341.5L571.0 339.4L568.6 335.5L565.0 330.1L564.6 329.5L560.2 323.4L559.0 321.8L555.6 317.4L553.0 314.3L550.6 311.4L547.0 307.4L545.2 305.4L541.0 301.0L541.0 299.4L541.0 293.4L541.0 287.3L541.0 281.3L541.0 275.3L541.0 269.3L541.0 263.3L541.0 257.2L541.0 251.2L541.0 245.2L541.0 239.2L541.0 233.2L541.0 227.2L541.0 221.1L541.0 215.1L541.0 209.1L541.0 203.1L541.0 197.1L541.0 191.1L541.0 185.0L541.0 179.0L541.0 173.0L541.0 167.0L541.0 161.0L541.0 154.9L541.0 148.9L541.0 142.9L541.0 136.9L541.0 130.9L541.0 124.9L541.0 118.8L541.0 112.8L541.0 106.8L541.0 100.8L541.0 94.8L541.0 88.8L541.0 82.7L541.0 76.7L541.0 70.7L541.0 64.7L541.0 58.7L541.0 52.6L541.0 46.6L541.0 40.6L541.0 34.6L541.0 28.6L541.0 22.6L541.0 16.5L541.0 10.5L541.0 4.5Z"/>
<path fill="#4239CD" d="M547.0 4.5L553.0 4.5L559.0 4.5L565.0 4.5L571.0 4.5L577.0 4.5L583.0 4.5L589.0 4.5L595.0 4.5L601.0 4.5L607.0 4.5L613.0 4.5L619.0 4.5L625.0 4.5L631.0 4.5L637.0 4.5L643.0 4.5L649.0 4.5L655.0 4.5L661.0 4.5L667.0 4.5L673.0 4.5L679.0 4.5L685.0 4.5L691.0 4.5L697.0 4.5L703.0 4.5L709.0 4.5L715.0 4.5L721.0 4.5L727.0 4.5L733.0 4.5L739.0 4.5L745.0 4.5L751.0 4.5L757.0 4.5L763.0 4.5L769.0 4.5L775.0 4.5L781.0 4.5L787.0 4.5L793.0 4.5L799.0 4.5L805.0 4.5L811.0 4.5L817.0 4.5L823.0 4.5L823.0 10.5L823.0 16.5L823.0 22.6L823.0 28.6L823.0 34.6L823.0 40.6L823.0 46.6L823.0 52.6L823.0 58.7L823.0 64.7L823.0 70.7L823.0 76.7L823.0 82.7L823.0 88.8L823.0 94.8L823.0 100.8L823.0 106.8L823.0 112.8L823.0 118.8L823.0 124.9L823.0 130.9L823.0 136.9L823.0 142.9L823.0 148.9L823.0 154.9L823.0 161.0L823.0 167.0L823.0 173.0L823.0 179.0L823.0 185.0L823.0 191.1L823.0 197.1L823.0 203.1L823.0 209.1L823.0 215.1L823.0 221.1L823.0 227.2L823.0 233.2L823.0 239.2L823.0 245.2L823.0 251.2L823.0 257.2L823.0 263.3L823.0 269.3L823.0 275.3L823.0 281.3L823.0 287.3L823.0 293.4L823.0 299.4L823.0 305.4L823.0 311.4L823.0 317.4L823.0 323.4L823.0 329.5L823.0 335.5L823.0 341.5L817.0 341.5L811.0 341.5L805.0 341.5L799.0 341.5L793.0 341.5L787.0 341.5L781.0 341.5L775.0 341.5L769.0 341.5L763.0 341.5L757.0 341.5L751.0 341.5L745.0 341.5L739.0 341.5L733.0 341.5L727.0 341.5L721.0 341.5L715.0 341.5L709.0 341.5L703.0 341.5L697.0 341.5L691.0 341.5L685.0 341.5L679.0 341.5L673.0 341.5L667.0 341.5L661.0 341.5L655.0 341.5L649.0 341.5L643.0 341.5L637.0 341.5L631.0 341.5L625.0 341.5L619.0 341.5L613.0 341.5L607.0 341.5L601.0 341.5L595.0 341.5L592.0 341.5L589.0 336.5L588.4 335.5L584.5 329.5L583.0 327.4L580.3 323.4L577.0 319.1L575.7 317.4L571.0 311.6L570.9 311.4L565.8 305.4L565.0 304.5L560.3 299.4L559.0 298.0L554.5 293.4L553.0 291.8L548.4 287.3L547.0 286.0L541.8 281.3L541.0 280.6L541.0 275.3L541.0 269.3L541.0 263.3L541.0 257.2L541.0 251.2L541.0 245.2L541.0 239.2L541.0 233.2L541.0 227.2L541.0 221.1L541.0 215.1L541.0 209.1L541.0 203.1L541.0 197.1L541.0 191.1L541.0 185.0L541.0 179.0L541.0 173.0L541.0 167.0L541.0 161.0L541.0 154.9L541.0 148.9L541.0 142.9L541.0 136.9L541.0 130.9L541.0 124.9L541.0 118.8L541.0 112.8L541.0 106.8L541.0 100.8L541.0 94.8L541.0 88.8L541.0 82.7L541.0 76.7L541.0 70.7L541.0 64.7L541.0 58.7L541.0 52.6L541.0 46.6L541.0 40.6L541.0 34.6L541.0 28.6L541.0 22.6L541.0 16.5L541.0 10.5L541.0 4.5Z"/>
<path fill="#4541DB" d="M547.0 4.5L553.0 4.5L559.0 4.5L565.0 4.5L571.0 4.5L577.0 4.5L583.0 4.5L589.0 4.5L595.0 4.5L601.0 4.5L607.0 4.5L613.0 4.5L619.0 4.5L625.0 4.5L631.0 4.5L637.0 4.5L643.0 4.5L649.0 4.5L655.0 4.5L661.0 4.5L667.0 4.5L673.0 4.5L679.0 4.5L685.0 4.5L691.0 4.5L697.0 4.5L703.0 4.5L709.0 4.5L715.0 4.5L721.0 4.5L727.0 4.5L733.0 4.5L739.0 4.5L745.0 4.5L751.0 4.5L757.0 4.5L763.0 4.5L769.0 4.5L775.0 4.5L781.0 4.5L787.0 4.5L793.0 4.5L799.0 4.5L805.0 4.5L811.0 4.5L817.0 4.5L823.0 4.5L823.0 10.5L823.0 16.5L823.0 22.6L823.0 28.6L823.0 34.6L823.0 40.6L823.0 46.6L823.0 52.6L823.0 58.7L823.0 64.7L823.0 70.7L823.0 76.7L823.0 82.7L823.0 88.8L823.0 94.8L823.0 100.8L823.0 106.8L823.0 112.8L823.0 118.8L823.0 124.9L823.0 130.9L823.0 136.9L823.0 142.9L823.0 148.9L823.0 154.9L823.0 161.0L823.0 167.0L823.0 173.0L823.0 179.0L823.0 185.0L823.0 191.1L823.0 197.1L823.0 203.1L823.0 209.1L823.0 215.1L823.0 221.1L823.0 227.2L823.0 233.2L823.0 239.2L823.0 245.2L823.0 251.2L823.0 257.2L823.0 263.3L823.0 269.3L823.0 275.3L823.0 281.3L823.0 287.3L823.0 293.4L823.0 299.4L823.0 305.4L823.0 311.4L823.0 317.4L823.0 323.4L823.0 329.5L823.0 335.5L823.0 341.5L817.0 341.5L811.0 341.5L805.0 341.5L799.0 341.5L793.0 341.5L787.0 341.5L781.0 341.5L775.0 341.5L769.0 341.5L763.0 341.5L757.0 341.5L751.0 341.5L745.0 341.5L739.0 341.5L733.0 341.5L727.0 341.5L721.0 341.5L715.0 341.5L709.0 341.5L703.0 341.5L697.0 341.5L691.0 341.5L685.0 341.5L679.0 341.5L673.0 341.5L667.0 341.5L661.0 341.5L655.0 341.5L649.0 341.5L643.0 341.5L637.0 341.5L631.0 341.5L625.0 341.5L619.0 341.5L615.3 341.5L613.0 337.8L611.5 335.5L607.4 329.5L607.0 328.9L603.1 323.4L601.0 320.8L598.4 317.4L595.0 313.2L593.5 311.4L589.0 306.1L588.4 305.4L583.0 299.4L583.0 299.4L577.4 293.4L577.0 293.0L571.4 287.3L571.0 286.9L565.3 281.3L565.0 281.1L559.0 275.5L558.7 275.3L553.0 270.3L551.9 269.3L547.0 265.2L544.6 263.3L541.0 260.5L541.0 257.2L541.0 251.2L541.0 245.2L541.0 239.2L541.0 233.2L541.0 227.2L541.0 221.1L541.0 215.1L541.0 209.1L541.0 203.1L541.0 197.1L541.0 191.1L541.0 185.0L541.0 179.0L541.0 173.0L541.0 167.0L541.0 161.0L541.0 154.9L541.0 148.9L541.0 142.9L541.0 136.9L541.0 130.9L541.0 124.9L541.0 118.8L541.0 112.8L541.0 106.8L541.0 100.8L541.0 94.8L541.0 88.8L541.0 82.7L541.0 76.7L541.0 70.7L541.0 64.7L541.0 58.7L541.0 52.6L541.0 46.6L541.0 40.6L541.0 34.6L541.0 28.6L541.0 22.6L541.0 16.5L541.0 10.5L541.0 4.5Z"/>
<path fill="#4749E6" d="M547.0 4.5L553.0 4.5L559.0 4.5L565.0 4.5L571.0 4.5L577.0 4.5L583.0 4.5L589.0 4.5L595.0 4.5L601.0 4.5L607.0 4.5L613.0 4.5L619.0 4.5L625.0 4.5L631.0 4.5L637.0 4.5L643.0 4.5L649.0 4.5L655.0 4.5L661.0 4.5L667.0 4.5L673.0 4.5L679.0 4.5L685.0 4.5L691.0 4.5L697.0 4.5L703.0 4.5L709.0 4.5L715.0 4.5L721.0 4.5L727.0 4.5L733.0 4.5L739.0 4.5L745.0 4.5L751.0 4.5L757.0 4.5L763.0 4.5L769.0 4.5L775.0 4.5L781.0 4.5L787.0 4.5L793.0 4.5L799.0 4.5L805.0 4.5L811.0 4.5L817.0 4.5L823.0 4.5L823.0 10.5L823.0 16.5L823.0 22.6L823.0 28.6L823.0 34.6L823.0 40.6L823.0 46.6L823.0 52.6L823.0 58.7L823.0 64.7L823.0 70.7L823.0 76.7L823.0 82.7L823.0 88.8L823.0 94.8L823.0 100.8L823.0 106.8L823.0 112.8L823.0 118.8L823.0 124.9L823.0 130.9L823.0 136.9L823.0 142.9L823.0 148.9L823.0 154.9L823.0 161.0L823.0 167.0L823.0 173.0L823.0 179.0L823.0 185.0L823.0 191.1L823.0 197.1L823.0 203.1L823.0 209.1L823.0 215.1L823.0 221.1L823.0 227.2L823.0 233.2L823.0 239.2L823.0 245.2L823.0 251.2L823.0 257.2L823.0 263.3L823.0 269.3L823.0 275.3L823.0 281.3L823.0 287.3L823.0 293.4L823.0 299.4L823.0 305.4L823.0 311.4L823.0 317.4L823.0 323.4L823.0 329.5L823.0 335.5L823.0 339.5L817.1 341.5L817.0 341.5L811.0 341.5L805.0 341.5L799.0 341.5L793.0 341.5L787.0 341.5L781.0 341.5L775.0 341.5L769.0 341.5L763.0 341.5L757.0 341.5L751.0 341.5L745.0 341.5L739.0 341.5L733.0 341.5L727.0 341.5L721.0 341.5L715.0 341.5L709.0 341.5L703.0 341.5L697.0 341.5L691.0 341.5L685.0 341.5L679.0 341.5L673.0 341.5L667.0 341.5L661.0 341.5L655.0 341.5L649.0 341.5L646.0 341.5L643.0 337.8L641.2 335.5L637.0 330.4L636.3 329.5L631.1 323.4L631.0 323.4L625.8 317.4L625.0 316.6L620.3 311.4L619.0 310.0L614.7 305.4L613.0 303.7L608.9 299.4L607.0 297.5L603.0 293.4L601.0 291.4L596.9 287.3L595.0 285.5L590.7 281.3L589.0 279.8L584.2 275.3L583.0 274.2L577.6 269.3L577.0 268.8L571.0 263.5L570.7 263.3L565.0 258.4L563.6 257.2L559.0 253.6L556.1 251.2L553.0 248.9L548.2 245.2L547.0 244.4L541.0 240.1L541.0 239.2L541.0 233.2L541.0 227.2L541.0 221.1L541.0 215.1L541.0 209.1L541.0 203.1L541.0 197.1L541.0 191.1L541.0 185.0L541.0 179.0L541.0 173.0L541.0 167.0L541.0 161.0L541.0 154.9L541.0 148.9L541.0 142.9L541.0 136.9L541.0 130.9L541.0 124.9L541.0 118.8L541.0 112.8L541.0 106.8L541.0 100.8L541.0 94.8L541.0 88.8L541.0 82.7L541.0 76.7L541.0 70.7L541.0 64.7L541.0 58.7L541.0 52.6L541.0 46.6L541.0 40.6L541.0 34.6L541.0 28.6L541.0 22.6L541.0 16.5L541.0 10.5L541.0 4.5Z"/>
<path fill="#4852EF" d="M547.0 4.5L553.0 4.5L559.0 4.5L565.0 4.5L571.0 4.5L577.0 4.5L583.0 4.5L589.0 4.5L595.0 4.5L601.0 4.5L607.0 4.5L613.0 4.5L619.0 4.5L625.0 4.5L631.0 4.5L637.0 4.5L643.0 4.5L649.0 4.5L655.0 4.5L661.0 4.5L667.0 4.5L673.0 4.5L679.0 4.5L685.0 4.5L691.0 4.5L697.0 4.5L703.0 4.5L709.0 4.5L715.0 4.5L721.0 4.5L727.0 4.5L733.0 4.5L739.0 4.5L745.0 4.5L751.0 4.5L757.0 4.5L763.0 4.5L769.0 4.5L775.0 4.5L781.0 4.5L787.0 4.5L793.0 4.5L799.0 4.5L805.0 4.5L811.0 4.5L817.0 4.5L823.0 4.5L823.0 10.5L823.0 16.5L823.0 22.6L823.0 28.6L823.0 34.6L823.0 40.6L823.0 46.6L823.0 52.6L823.0 58.7L823.0 64.7L823.0 70.7L823.0 76.7L823.0 82.7L823.0 88.8L823.0 94.8L823.0 100.8L823.0 106.8L823.0 112.8L823.0 118.8L823.0 124.9L823.0 130.9L823.0 136.9L823.0 142.9L823.0 148.9L823.0 154.9L823.0 161.0L823.0 167.0L823.0 173.0L823.0 179.0L823.0 185.0L823.0 191.1L823.0 197.1L823.0 203.1L823.0 209.1L823.0 215.1L823.0 221.1L823.0 227.2L823.0 233.2L823.0 239.2L823.0 245.2L823.0 251.2L823.0 257.2L823.0 263.3L823.0 269.3L823.0 275.3L823.0 281.3L823.0 287.3L823.0 293.4L823.0 299.4L823.0 305.4L823.0 311.4L823.0 317.4L823.0 317.4L817.0 318.6L811.0 319.8L805.0 321.2L799.0 322.6L795.7 323.4L793.0 324.2L787.0 325.8L781.0 327.4L775.0 329.1L773.5 329.5L769.0 330.8L763.0 332.4L757.0 334.0L751.0 335.5L750.9 335.5L745.0 336.9L739.0 338.0L733.0 338.9L727.0 339.5L721.0 339.7L715.0 339.4L709.0 338.6L703.0 337.3L697.1 335.5L697.0 335.5L691.0 333.2L685.0 330.3L683.6 329.5L679.0 327.0L673.3 323.4L673.0 323.3L667.0 319.3L664.5 317.4L661.0 315.0L656.4 311.4L655.0 310.4L649.0 305.7L648.7 305.4L643.0 300.8L641.3 299.4L637.0 295.8L634.1 293.4L631.0 290.8L627.0 287.3L625.0 285.7L620.0 281.3L619.0 280.5L613.0 275.3L613.0 275.3L607.0 270.2L606.0 269.3L601.0 265.1L598.9 263.3L595.0 260.0L591.8 257.2L589.0 255.0L584.5 251.2L583.0 250.0L577.0 245.2L577.0 245.2L571.0 240.4L569.4 239.2L565.0 235.8L561.4 233.2L559.0 231.4L553.1 227.2L553.0 227.1L547.0 223.0L544.2 221.1L541.0 219.1L541.0 215.1L541.0 209.1L541.0 203.1L541.0 197.1L541.0 191.1L541.0 185.0L541.0 179.0L541.0 173.0L541.0 167.0L541.0 161.0L541.0 154.9L541.0 148.9L541.0 142.9L541.0 136.9L541.0 130.9L541.0 124.9L541.0 118.8L541.0 112.8L541.0 106.8L541.0 100.8L541.0 94.8L541.0 88.8L541.0 82.7L541.0 76.7L541.0 70.7L541.0 64.7L541.0 58.7L541.0 52.6L541.0 46.6L541.0 40.6L541.0 34.6L541.0 28.6L541.0 22.6L541.0 16.5L541.0 10.5L541.0 4.5Z"/>
<path fill="#4958F4" d="M547.0 4.5L553.0 4.5L559.0 4.5L565.0 4.5L571.0 4.5L577.0 4.5L583.0 4.5L589.0 4.5L595.0 4.5L601.0 4.5L607.0 4.5L613.0 4.5L619.0 4.5L625.0 4.5L631.0 4.5L637.0 4.5L643.0 4.5L649.0 4.5L655.0 4.5L661.0 4.5L667.0 4.5L673.0 4.5L679.0 4.5L685.0 4.5L691.0 4.5L697.0 4.5L703.0 4.5L709.0 4.5L715.0 4.5L721.0 4.5L727.0 4.5L733.0 4.5L739.0 4.5L745.0 4.5L751.0 4.5L757.0 4.5L763.0 4.5L769.0 4.5L775.0 4.5L781.0 4.5L787.0 4.5L793.0 4.5L799.0 4.5L805.0 4.5L811.0 4.5L817.0 4.5L823.0 4.5L823.0 10.5L823.0 16.5L823.0 22.6L823.0 28.6L823.0 34.6L823.0 40.6L823.0 46.6L823.0 52.6L823.0 58.7L823.0 64.7L823.0 70.7L823.0 76.7L823.0 82.7L823.0 88.8L823.0 94.8L823.0 100.8L823.0 106.8L823.0 112.8L823.0 118.8L823.0 124.9L823.0 130.9L823.0 136.9L823.0 142.9L823.0 148.9L823.0 154.9L823.0 161.0L823.0 167.0L823.0 173.0L823.0 179.0L823.0 185.0L823.0 191.1L823.0 197.1L823.0 203.1L823.0 209.1L823.0 215.1L823.0 221.1L823.0 227.2L823.0 233.2L823.0 239.2L823.0 245.2L823.0 251.2L823.0 257.2L823.0 263.3L823.0 269.3L823.0 275.3L823.0 281.3L823.0 287.3L823.0 293.4L823.0 297.1L817.0 297.6L811.0 298.3L805.0 299.0L801.6 299.4L799.0 299.7L793.0 300.5L787.0 301.3L781.0 302.1L775.0 302.9L769.0 303.7L763.0 304.3L757.0 304.9L751.0 305.4L750.8 305.4L745.0 305.7L739.0 305.9L733.0 305.8L727.0 305.5L725.8 305.4L721.0 305.0L715.0 304.1L709.0 303.0L703.0 301.6L697.0 299.8L695.7 299.4L691.0 297.8L685.0 295.4L680.5 293.4L679.0 292.7L673.0 289.7L668.6 287.3L667.0 286.5L661.0 283.0L658.3 281.3L655.0 279.3L649.0 275.4L648.9 275.3L643.0 271.3L640.2 269.3L637.0 267.0L631.8 263.3L631.0 262.7L625.0 258.2L623.7 257.2L619.0 253.7L615.8 251.2L613.0 249.1L608.0 245.2L607.0 244.5L601.0 239.8L600.2 239.2L595.0 235.2L592.4 233.2L589.0 230.5L584.6 227.2L583.0 226.0L577.0 221.5L576.6 221.1L571.0 217.0L568.4 215.1L565.0 212.7L559.9 209.1L559.0 208.5L553.0 204.5L550.9 203.1L547.0 200.6L541.2 197.1L541.0 196.9L541.0 191.1L541.0 185.0L541.0 179.0L541.0 173.0L541.0 167.0L541.0 161.0L541.0 154.9L541.0 148.9L541.0 142.9L541.0 136.9L541.0 130.9L541.0 124.9L541.0 118.8L541.0 112.8L541.0 106.8L541.0 100.8L541.0 94.8L541.0 88.8L541.0 82.7L541.0 76.7L541.0 70.7L541.0 64.7L541.0 58.7L541.0 52.6L541.0 46.6L541.0 40.6L541.0 34.6L541.0 28.6L541.0 22.6L541.0 16.5L541.0 10.5L541.0 4.5Z"/>
<path fill="#4A62F7" d="M547.0 4.5L553.0 4.5L559.0 4.5L565.0 4.5L571.0 4.5L577.0 4.5L583.0 4.5L589.0 4.5L595.0 4.5L601.0 4.5L607.0 4.5L613.0 4.5L619.0 4.5L625.0 4.5L631.0 4.5L637.0 4.5L643.0 4.5L649.0 4.5L655.0 4.5L661.0 4.5L667.0 4.5L673.0 4.5L679.0 4.5L685.0 4.5L691.0 4.5L697.0 4.5L703.0 4.5L709.0 4.5L715.0 4.5L721.0 4.5L727.0 4.5L733.0 4.5L739.0 4.5L745.0 4.5L751.0 4.5L757.0 4.5L763.0 4.5L769.0 4.5L775.0 4.5L781.0 4.5L787.0 4.5L793.0 4.5L799.0 4.5L805.0 4.5L811.0 4.5L817.0 4.5L823.0 4.5L823.0 10.5L823.0 16.5L823.0 22.6L823.0 28.6L823.0 34.6L823.0 40.6L823.0 46.6L823.0 52.6L823.0 58.7L823.0 64.7L823.0 70.7L823.0 76.7L823.0 82.7L823.0 88.8L823.0 94.8L823.0 100.8L823.0 106.8L823.0 112.8L823.0 118.8L823.0 124.9L823.0 130.9L823.0 136.9L823.0 142.9L823.0 148.9L823.0 154.9L823.0 161.0L823.0 167.0L823.0 173.0L823.0 179.0L823.0 185.0L823.0 191.1L823.0 197.1L823.0 203.1L823.0 209.1L823.0 215.1L823.0 221.1L823.0 227.2L823.0 233.2L823.0 239.2L823.0 245.2L823.0 251.2L823.0 257.2L823.0 263.3L823.0 269.3L823.0 275.3L823.0 277.6L817.0 277.8L811.0 277.9L805.0 278.2L799.0 278.5L793.0 278.7L787.0 279.0L781.0 279.3L775.0 279.6L769.0 279.7L763.0 279.9L757.0 279.9L751.0 279.8L745.0 279.6L739.0 279.3L733.0 278.7L727.0 278.0L721.0 277.1L715.0 276.0L712.1 275.3L709.0 274.6L703.0 273.0L697.0 271.2L691.6 269.3L691.0 269.1L685.0 266.8L679.0 264.2L677.0 263.3L673.0 261.4L667.0 258.4L664.9 257.2L661.0 255.1L655.0 251.7L654.2 251.2L649.0 248.1L644.5 245.2L643.0 244.3L637.0 240.4L635.3 239.2L631.0 236.3L626.5 233.2L625.0 232.1L619.0 227.9L618.0 227.2L613.0 223.5L609.8 221.1L607.0 219.1L601.6 215.1L601.0 214.7L595.0 210.2L593.5 209.1L589.0 205.8L585.4 203.1L583.0 201.4L577.1 197.1L577.0 197.0L571.0 192.7L568.7 191.1L565.0 188.4L560.0 185.0L559.0 184.3L553.0 180.4L550.8 179.0L547.0 176.6L541.0 173.0L541.0 173.0L541.0 167.0L541.0 161.0L541.0 154.9L541.0 148.9L541.0 142.9L541.0 136.9L541.0 130.9L541.0 124.9L541.0 118.8L541.0 112.8L541.0 106.8L541.0 100.8L541.0 94.8L541.0 88.8L541.0 82.7L541.0 76.7L541.0 70.7L541.0 64.7L541.0 58.7L541.0 52.6L541.0 46.6L541.0 40.6L541.0 34.6L541.0 28.6L541.0 22.6L541.0 16.5L541.0 10.5L541.0 4.5Z"/>
<path fill="#4B6CF8" d="M547.0 4.5L553.0 4.5L559.0 4.5L565.0 4.5L571.0 4.5L577.0 4.5L583.0 4.5L589.0 4.5L595.0 4.5L601.0 4.5L607.0 4.5L613.0 4.5L619.0 4.5L625.0 4.5L631.0 4.5L637.0 4.5L643.0 4.5L649.0 4.5L655.0 4.5L661.0 4.5L667.0 4.5L673.0 4.5L679.0 4.5L685.0 4.5L691.0 4.5L697.0 4.5L703.0 4.5L709.0 4.5L715.0 4.5L721.0 4.5L727.0 4.5L733.0 4.5L739.0 4.5L745.0 4.5L751.0 4.5L757.0 4.5L763.0 4.5L769.0 4.5L775.0 4.5L781.0 4.5L787.0 4.5L793.0 4.5L799.0 4.5L805.0 4.5L811.0 4.5L817.0 4.5L823.0 4.5L823.0 10.5L823.0 16.5L823.0 22.6L823.0 28.6L823.0 34.6L823.0 40.6L823.0 46.6L823.0 52.6L823.0 58.7L823.0 64.7L823.0 70.7L823.0 76.7L823.0 82.7L823.0 88.8L823.0 94.8L823.0 100.8L823.0 106.8L823.0 112.8L823.0 118.8L823.0 124.9L823.0 130.9L823.0 136.9L823.0 142.9L823.0 148.9L823.0 154.9L823.0 161.0L823.0 167.0L823.0 173.0L823.0 179.0L823.0 185.0L823.0 191.1L823.0 197.1L823.0 203.1L823.0 209.1L823.0 215.1L823.0 221.1L823.0 227.2L823.0 233.2L823.0 239.2L823.0 245.2L823.0 251.2L823.0 257.2L823.0 258.7L817.0 258.5L811.0 258.3L805.0 258.2L799.0 258.1L793.0 258.0L787.0 257.9L781.0 257.8L775.0 257.6L769.0 257.4L765.9 257.2L763.0 257.1L757.0 256.7L751.0 256.3L745.0 255.7L739.0 255.0L733.0 254.1L727.0 253.1L721.0 251.9L718.2 251.2L715.0 250.5L709.0 248.9L703.0 247.1L697.2 245.2L697.0 245.2L691.0 243.0L685.0 240.6L681.8 239.2L679.0 238.0L673.0 235.2L669.1 233.2L667.0 232.1L661.0 228.9L657.8 227.2L655.0 225.6L649.0 222.0L647.6 221.1L643.0 218.3L638.1 215.1L637.0 214.4L631.0 210.4L629.1 209.1L625.0 206.3L620.4 203.1L619.0 202.1L613.0 197.8L612.0 197.1L607.0 193.4L603.8 191.1L601.0 189.0L595.7 185.0L595.0 184.5L589.0 180.0L587.6 179.0L583.0 175.6L579.5 173.0L577.0 171.1L571.3 167.0L571.0 166.7L565.0 162.4L562.9 161.0L559.0 158.2L554.2 154.9L553.0 154.1L547.0 150.2L544.9 148.9L541.0 146.5L541.0 142.9L541.0 136.9L541.0 130.9L541.0 124.9L541.0 118.8L541.0 112.8L541.0 106.8L541.0 100.8L541.0 94.8L541.0 88.8L541.0 82.7L541.0 76.7L541.0 70.7L541.0 64.7L541.0 58.7L541.0 52.6L541.0 46.6L541.0 40.6L541.0 34.6L541.0 28.6L541.0 22.6L541.0 16.5L541.0 10.5L541.0 4.5Z"/>
<path fill="#4E77F6" d="M547.0 4.5L553.0 4.5L559.0 4.5L565.0 4.5L571.0 4.5L577.0 4.5L583.0 4.5L589.0 4.5L595.0 4.5L601.0 4.5L607.0 4.5L613.0 4.5L619.0 4.5L625.0 4.5L631.0 4.5L637.0 4.5L643.0 4.5L649.0 4.5L655.0 4.5L661.0 4.5L667.0 4.5L673.0 4.5L679.0 4.5L685.0 4.5L691.0 4.5L697.0 4.5L703.0 4.5L709.0 4.5L715.0 4.5L721.0 4.5L727.0 4.5L733.0 4.5L739.0 4.5L745.0 4.5L751.0 4.5L757.0 4.5L763.0 4.5L769.0 4.5L775.0 4.5L781.0 4.5L787.0 4.5L793.0 4.5L799.0 4.5L805.0 4.5L811.0 4.5L817.0 4.5L823.0 4.5L823.0 10.5L823.0 16.5L823.0 22.6L823.0 28.6L823.0 34.6L823.0 40.6L823.0 46.6L823.0 52.6L823.0 58.7L823.0 64.7L823.0 70.7L823.0 76.7L823.0 82.7L823.0 88.8L823.0 94.8L823.0 100.8L823.0 106.8L823.0 112.8L823.0 118.8L823.0 124.9L823.0 130.9L823.0 136.9L823.0 142.9L823.0 148.9L823.0 154.9L823.0 161.0L823.0 167.0L823.0 173.0L823.0 179.0L823.0 185.0L823.0 191.1L823.0 197.1L823.0 203.1L823.0 209.1L823.0 215.1L823.0 221.1L823.0 227.2L823.0 233.2L823.0 239.2L823.0 240.0L817.0 239.5L813.2 239.2L811.0 239.0L805.0 238.6L799.0 238.2L793.0 237.8L787.0 237.4L781.0 236.9L775.0 236.4L769.0 235.9L763.0 235.3L757.0 234.6L751.0 233.8L746.8 233.2L745.0 232.9L739.0 231.9L733.0 230.7L727.0 229.4L721.0 228.0L718.1 227.2L715.0 226.3L709.0 224.5L703.0 222.5L699.1 221.1L697.0 220.4L691.0 218.0L685.0 215.5L684.2 215.1L679.0 212.7L673.0 209.8L671.7 209.1L667.0 206.7L661.0 203.4L660.5 203.1L655.0 199.9L650.3 197.1L649.0 196.3L643.0 192.5L640.9 191.1L637.0 188.5L631.9 185.0L631.0 184.4L625.0 180.2L623.4 179.0L619.0 175.8L615.2 173.0L613.0 171.4L607.2 167.0L607.0 166.8L601.0 162.2L599.4 161.0L595.0 157.5L591.7 154.9L589.0 152.8L584.1 148.9L583.0 148.0L577.0 143.3L576.6 142.9L571.0 138.5L568.9 136.9L565.0 133.8L561.2 130.9L559.0 129.2L553.2 124.9L553.0 124.7L547.0 120.3L544.9 118.8L541.0 116.1L541.0 112.8L541.0 106.8L541.0 100.8L541.0 94.8L541.0 88.8L541.0 82.7L541.0 76.7L541.0 70.7L541.0 64.7L541.0 58.7L541.0 52.6L541.0 46.6L541.0 40.6L541.0 34.6L541.0 28.6L541.0 22.6L541.0 16.5L541.0 10.5L541.0 4.5Z"/>
<path fill="#5182F2" d="M547.0 4.5L553.0 4.5L559.0 4.5L565.0 4.5L571.0 4.5L577.0 4.5L583.0 4.5L589.0 4.5L595.0 4.5L601.0 4.5L607.0 4.5L613.0 4.5L619.0 4.5L625.0 4.5L631.0 4.5L637.0 4.5L643.0 4.5L649.0 4.5L655.0 4.5L661.0 4.5L667.0 4.5L673.0 4.5L679.0 4.5L685.0 4.5L691.0 4.5L697.0 4.5L703.0 4.5L709.0 4.5L715.0 4.5L721.0 4.5L727.0 4.5L733.0 4.5L739.0 4.5L745.0 4.5L751.0 4.5L757.0 4.5L763.0 4.5L769.0 4.5L775.0 4.5L781.0 4.5L787.0 4.5L793.0 4.5L799.0 4.5L805.0 4.5L811.0 4.5L817.0 4.5L823.0 4.5L823.0 10.5L823.0 16.5L823.0 22.6L823.0 28.6L823.0 34.6L823.0 40.6L823.0 46.6L823.0 52.6L823.0 58.7L823.0 64.7L823.0 70.7L823.0 76.7L823.0 82.7L823.0 88.8L823.0 94.8L823.0 100.8L823.0 106.8L823.0 112.8L823.0 118.8L823.0 124.9L823.0 130.9L823.0 136.9L823.0 142.9L823.0 148.9L823.0 154.9L823.0 161.0L823.0 167.0L823.0 173.0L823.0 179.0L823.0 185.0L823.0 191.1L823.0 197.1L823.0 203.1L823.0 209.1L823.0 215.1L823.0 221.1L823.0 221.3L821.5 221.1L817.0 220.6L811.0 219.9L805.0 219.2L799.0 218.5L793.0 217.8L787.0 217.1L781.0 216.4L775.0 215.6L771.3 215.1L769.0 214.8L763.0 213.9L757.0 212.9L751.0 211.9L745.0 210.7L739.0 209.4L737.8 209.1L733.0 208.0L727.0 206.4L721.0 204.7L716.0 203.1L715.0 202.8L709.0 200.7L703.0 198.5L699.3 197.1L697.0 196.1L691.0 193.6L685.5 191.1L685.0 190.8L679.0 187.9L673.6 185.0L673.0 184.7L667.0 181.4L662.9 179.0L661.0 177.9L655.0 174.2L653.1 173.0L649.0 170.4L644.0 167.0L643.0 166.3L637.0 162.1L635.4 161.0L631.0 157.8L627.2 154.9L625.0 153.2L619.4 148.9L619.0 148.6L613.0 143.8L611.9 142.9L607.0 138.9L604.6 136.9L601.0 133.8L597.5 130.9L595.0 128.7L590.6 124.9L589.0 123.4L583.8 118.8L583.0 118.1L577.1 112.8L577.0 112.7L571.0 107.2L570.5 106.8L565.0 101.7L563.9 100.8L559.0 96.2L557.4 94.8L553.0 90.7L550.8 88.8L547.0 85.3L544.1 82.7L541.0 79.9L541.0 76.7L541.0 70.7L541.0 64.7L541.0 58.7L541.0 52.6L541.0 46.6L541.0 40.6L541.0 34.6L541.0 28.6L541.0 22.6L541.0 16.5L541.0 10.5L541.0 4.5Z"/>
<path fill="#558EED" d="M547.0 4.5L553.0 4.5L559.0 4.5L565.0 4.5L571.0 4.5L577.0 4.5L583.0 4.5L589.0 4.5L595.0 4.5L601.0 4.5L607.0 4.5L613.0 4.5L619.0 4.5L625.0 4.5L631.0 4.5L637.0 4.5L643.0 4.5L649.0 4.5L655.0 4.5L661.0 4.5L667.0 4.5L673.0 4.5L679.0 4.5L685.0 4.5L691.0 4.5L697.0 4.5L703.0 4.5L709.0 4.5L715.0 4.5L721.0 4.5L727.0 4.5L733.0 4.5L739.0 4.5L745.0 4.5L751.0 4.5L757.0 4.5L763.0 4.5L769.0 4.5L775.0 4.5L781.0 4.5L787.0 4.5L793.0 4.5L799.0 4.5L805.0 4.5L811.0 4.5L817.0 4.5L823.0 4.5L823.0 10.5L823.0 16.5L823.0 22.6L823.0 28.6L823.0 34.6L823.0 40.6L823.0 46.6L823.0 52.6L823.0 58.7L823.0 64.7L823.0 70.7L823.0 76.7L823.0 82.7L823.0 88.8L823.0 94.8L823.0 100.8L823.0 106.8L823.0 112.8L823.0 118.8L823.0 124.9L823.0 130.9L823.0 136.9L823.0 142.9L823.0 148.9L823.0 154.9L823.0 161.0L823.0 167.0L823.0 173.0L823.0 179.0L823.0 185.0L823.0 191.1L823.0 197.1L823.0 202.6L817.0 201.6L811.0 200.7L805.0 199.7L799.0 198.8L793.0 197.9L787.6 197.1L787.0 197.0L781.0 196.0L775.0 195.0L769.0 193.9L763.0 192.8L757.0 191.5L754.9 191.1L751.0 190.2L745.0 188.7L739.0 187.2L733.0 185.5L731.5 185.0L727.0 183.6L721.0 181.7L715.0 179.5L713.7 179.0L709.0 177.2L703.0 174.7L699.1 173.0L697.0 172.1L691.0 169.2L686.5 167.0L685.0 166.2L679.0 163.0L675.4 161.0L673.0 159.6L667.0 156.0L665.3 154.9L661.0 152.2L656.1 148.9L655.0 148.2L649.0 144.0L647.5 142.9L643.0 139.6L639.4 136.9L637.0 135.1L631.7 130.9L631.0 130.3L625.0 125.4L624.4 124.9L619.0 120.2L617.4 118.8L613.0 114.9L610.7 112.8L607.0 109.4L604.2 106.8L601.0 103.7L598.0 100.8L595.0 97.8L591.9 94.8L589.0 91.8L586.0 88.8L583.0 85.5L580.3 82.7L577.0 79.1L574.8 76.7L571.0 72.5L569.4 70.7L565.0 65.7L564.1 64.7L559.0 58.7L558.9 58.7L553.9 52.6L553.0 51.5L549.0 46.6L547.0 44.1L544.2 40.6L541.0 36.5L541.0 34.6L541.0 28.6L541.0 22.6L541.0 16.5L541.0 10.5L541.0 4.5Z"/>
<path fill="#5A99E8" d="M553.0 4.5L559.0 4.5L565.0 4.5L571.0 4.5L577.0 4.5L583.0 4.5L589.0 4.5L595.0 4.5L601.0 4.5L607.0 4.5L613.0 4.5L619.0 4.5L625.0 4.5L631.0 4.5L637.0 4.5L643.0 4.5L649.0 4.5L655.0 4.5L661.0 4.5L667.0 4.5L673.0 4.5L679.0 4.5L685.0 4.5L691.0 4.5L697.0 4.5L703.0 4.5L709.0 4.5L715.0 4.5L721.0 4.5L727.0 4.5L733.0 4.5L739.0 4.5L745.0 4.5L751.0 4.5L757.0 4.5L763.0 4.5L769.0 4.5L775.0 4.5L781.0 4.5L787.0 4.5L793.0 4.5L799.0 4.5L805.0 4.5L811.0 4.5L817.0 4.5L823.0 4.5L823.0 10.5L823.0 16.5L823.0 22.6L823.0 28.6L823.0 34.6L823.0 40.6L823.0 46.6L823.0 52.6L823.0 58.7L823.0 64.7L823.0 70.7L823.0 76.7L823.0 82.7L823.0 88.8L823.0 94.8L823.0 100.8L823.0 106.8L823.0 112.8L823.0 118.8L823.0 124.9L823.0 130.9L823.0 136.9L823.0 142.9L823.0 148.9L823.0 154.9L823.0 161.0L823.0 167.0L823.0 173.0L823.0 179.0L823.0 183.6L817.0 182.5L811.0 181.3L805.0 180.2L799.0 179.1L798.5 179.0L793.0 178.0L787.0 176.8L781.0 175.6L775.0 174.4L769.0 173.1L768.7 173.0L763.0 171.7L757.0 170.2L751.0 168.6L745.3 167.0L745.0 166.9L739.0 165.1L733.0 163.1L727.0 161.0L726.8 161.0L721.0 158.8L715.0 156.4L711.7 154.9L709.0 153.8L703.0 151.0L698.7 148.9L697.0 148.1L691.0 144.9L687.3 142.9L685.0 141.6L679.0 138.1L677.1 136.9L673.0 134.4L667.7 130.9L667.0 130.4L661.0 126.3L659.1 124.9L655.0 121.9L651.0 118.8L649.0 117.3L643.4 112.8L643.0 112.5L637.0 107.4L636.3 106.8L631.0 102.2L629.5 100.8L625.0 96.7L623.0 94.8L619.0 90.9L616.8 88.8L613.0 85.0L610.8 82.7L607.0 78.7L605.1 76.7L601.0 72.2L599.6 70.7L595.0 65.5L594.3 64.7L589.2 58.7L589.0 58.5L584.2 52.6L583.0 51.1L579.4 46.6L577.0 43.5L574.7 40.6L571.0 35.6L570.3 34.6L565.9 28.6L565.0 27.3L561.6 22.6L559.0 18.7L557.5 16.5L553.6 10.5L553.0 9.7L549.7 4.5Z"/>
<path fill="#60A2E0" d="M577.0 4.5L583.0 4.5L589.0 4.5L595.0 4.5L601.0 4.5L607.0 4.5L613.0 4.5L619.0 4.5L625.0 4.5L631.0 4.5L637.0 4.5L643.0 4.5L649.0 4.5L655.0 4.5L661.0 4.5L667.0 4.5L673.0 4.5L679.0 4.5L685.0 4.5L691.0 4.5L697.0 4.5L703.0 4.5L709.0 4.5L715.0 4.5L721.0 4.5L727.0 4.5L733.0 4.5L739.0 4.5L745.0 4.5L751.0 4.5L757.0 4.5L763.0 4.5L769.0 4.5L775.0 4.5L781.0 4.5L787.0 4.5L793.0 4.5L799.0 4.5L805.0 4.5L811.0 4.5L817.0 4.5L823.0 4.5L823.0 10.5L823.0 16.5L823.0 22.6L823.0 28.6L823.0 34.6L823.0 40.6L823.0 46.6L823.0 52.6L823.0 58.7L823.0 64.7L823.0 70.7L823.0 76.7L823.0 82.7L823.0 88.8L823.0 94.8L823.0 100.8L823.0 106.8L823.0 112.8L823.0 118.8L823.0 124.9L823.0 130.9L823.0 136.9L823.0 142.9L823.0 148.9L823.0 154.9L823.0 161.0L823.0 164.4L817.0 163.1L811.0 161.8L806.9 161.0L805.0 160.5L799.0 159.3L793.0 157.9L787.0 156.6L781.0 155.2L779.9 154.9L775.0 153.8L769.0 152.2L763.0 150.6L757.1 148.9L757.0 148.9L751.0 147.1L745.0 145.1L739.0 143.1L738.5 142.9L733.0 140.9L727.0 138.5L723.1 136.9L721.0 136.0L715.0 133.3L709.9 130.9L709.0 130.4L703.0 127.4L698.3 124.9L697.0 124.2L691.0 120.7L687.9 118.8L685.0 117.1L679.0 113.2L678.4 112.8L673.0 109.1L669.8 106.8L667.0 104.8L661.7 100.8L661.0 100.3L655.0 95.5L654.1 94.8L649.0 90.5L647.0 88.8L643.0 85.2L640.3 82.7L637.0 79.7L633.9 76.7L631.0 73.9L627.8 70.7L625.0 67.8L622.0 64.7L619.0 61.5L616.4 58.7L613.0 54.9L611.0 52.6L607.0 48.0L605.8 46.6L601.0 40.8L600.9 40.6L596.0 34.6L595.0 33.3L591.4 28.6L589.0 25.5L586.8 22.6L583.0 17.3L582.4 16.5L578.2 10.5L577.0 8.8L574.0 4.5Z"/>
<path fill="#65AAD9" d="M601.0 4.5L607.0 4.5L613.0 4.5L619.0 4.5L625.0 4.5L631.0 4.5L637.0 4.5L643.0 4.5L649.0 4.5L655.0 4.5L661.0 4.5L667.0 4.5L673.0 4.5L679.0 4.5L685.0 4.5L691.0 4.5L697.0 4.5L703.0 4.5L709.0 4.5L715.0 4.5L721.0 4.5L727.0 4.5L733.0 4.5L739.0 4.5L745.0 4.5L751.0 4.5L757.0 4.5L763.0 4.5L769.0 4.5L775.0 4.5L781.0 4.5L787.0 4.5L793.0 4.5L799.0 4.5L805.0 4.5L811.0 4.5L817.0 4.5L823.0 4.5L823.0 10.5L823.0 16.5L823.0 22.6L823.0 28.6L823.0 34.6L823.0 40.6L823.0 46.6L823.0 52.6L823.0 58.7L823.0 64.7L823.0 70.7L823.0 76.7L823.0 82.7L823.0 88.8L823.0 94.8L823.0 100.8L823.0 106.8L823.0 112.8L823.0 118.8L823.0 124.9L823.0 130.9L823.0 136.9L823.0 142.9L823.0 145.0L817.0 143.6L814.1 142.9L811.0 142.2L805.0 140.8L799.0 139.3L793.0 137.9L789.1 136.9L787.0 136.4L781.0 134.8L775.0 133.2L769.0 131.5L767.1 130.9L763.0 129.6L757.0 127.7L751.0 125.7L748.6 124.9L745.0 123.5L739.0 121.3L733.1 118.8L733.0 118.8L727.0 116.2L721.0 113.4L719.7 112.8L715.0 110.5L709.0 107.4L708.0 106.8L703.0 104.1L697.4 100.8L697.0 100.5L691.0 96.8L687.9 94.8L685.0 92.8L679.1 88.8L679.0 88.7L673.0 84.3L671.0 82.7L667.0 79.6L663.4 76.7L661.0 74.7L656.3 70.7L655.0 69.6L649.5 64.7L649.0 64.2L643.1 58.7L643.0 58.5L637.0 52.6L637.0 52.6L631.2 46.6L631.0 46.4L625.6 40.6L625.0 39.9L620.2 34.6L619.0 33.2L615.0 28.6L613.0 26.2L610.0 22.6L607.0 18.8L605.2 16.5L601.0 11.2L600.5 10.5L595.9 4.5Z"/>
<path fill="#69B2CF" d="M619.0 4.5L625.0 4.5L631.0 4.5L637.0 4.5L643.0 4.5L649.0 4.5L655.0 4.5L661.0 4.5L667.0 4.5L673.0 4.5L679.0 4.5L685.0 4.5L691.0 4.5L697.0 4.5L703.0 4.5L709.0 4.5L715.0 4.5L721.0 4.5L727.0 4.5L733.0 4.5L739.0 4.5L745.0 4.5L751.0 4.5L757.0 4.5L763.0 4.5L769.0 4.5L775.0 4.5L781.0 4.5L787.0 4.5L793.0 4.5L799.0 4.5L805.0 4.5L811.0 4.5L817.0 4.5L823.0 4.5L823.0 10.5L823.0 16.5L823.0 22.6L823.0 28.6L823.0 34.6L823.0 40.6L823.0 46.6L823.0 52.6L823.0 58.7L823.0 64.7L823.0 70.7L823.0 76.7L823.0 82.7L823.0 88.8L823.0 94.8L823.0 100.8L823.0 106.8L823.0 112.8L823.0 118.8L823.0 124.9L823.0 125.5L820.5 124.9L817.0 124.0L811.0 122.5L805.0 121.0L799.0 119.4L796.8 118.8L793.0 117.8L787.0 116.2L781.0 114.5L775.3 112.8L775.0 112.7L769.0 110.9L763.0 108.9L757.0 106.8L756.9 106.8L751.0 104.6L745.0 102.3L741.4 100.8L739.0 99.8L733.0 97.1L727.9 94.8L727.0 94.3L721.0 91.4L716.0 88.8L715.0 88.2L709.0 84.8L705.4 82.7L703.0 81.3L697.0 77.5L695.8 76.7L691.0 73.6L686.9 70.7L685.0 69.4L679.0 64.9L678.7 64.7L673.0 60.3L671.0 58.7L667.0 55.4L663.8 52.6L661.0 50.2L657.0 46.6L655.0 44.8L650.5 40.6L649.0 39.2L644.3 34.6L643.0 33.3L638.4 28.6L637.0 27.1L632.7 22.6L631.0 20.7L627.2 16.5L625.0 14.1L621.9 10.5L619.0 7.2L616.8 4.5Z"/>
<path fill="#6BBABF" d="M643.0 4.5L649.0 4.5L655.0 4.5L661.0 4.5L667.0 4.5L673.0 4.5L679.0 4.5L685.0 4.5L691.0 4.5L697.0 4.5L703.0 4.5L709.0 4.5L715.0 4.5L721.0 4.5L727.0 4.5L733.0 4.5L739.0 4.5L745.0 4.5L751.0 4.5L757.0 4.5L763.0 4.5L769.0 4.5L775.0 4.5L781.0 4.5L787.0 4.5L793.0 4.5L799.0 4.5L805.0 4.5L811.0 4.5L817.0 4.5L823.0 4.5L823.0 10.5L823.0 16.5L823.0 22.6L823.0 28.6L823.0 34.6L823.0 40.6L823.0 46.6L823.0 52.6L823.0 58.7L823.0 64.7L823.0 70.7L823.0 76.7L823.0 82.7L823.0 88.8L823.0 94.8L823.0 100.8L823.0 105.9L817.0 104.4L811.0 102.9L805.0 101.3L803.1 100.8L799.0 99.7L793.0 98.1L787.0 96.3L781.7 94.8L781.0 94.5L775.0 92.7L769.0 90.7L763.4 88.8L763.0 88.6L757.0 86.4L751.0 84.0L747.8 82.7L745.0 81.6L739.0 78.9L734.2 76.7L733.0 76.1L727.0 73.2L722.3 70.7L721.0 70.0L715.0 66.7L711.5 64.7L709.0 63.2L703.0 59.5L701.8 58.7L697.0 55.6L692.8 52.6L691.0 51.4L685.0 47.0L684.5 46.6L679.0 42.5L676.7 40.6L673.0 37.7L669.3 34.6L667.0 32.6L662.4 28.6L661.0 27.3L655.8 22.6L655.0 21.8L649.5 16.5L649.0 16.1L643.4 10.5L643.0 10.1L637.6 4.5Z"/>
<path fill="#6FC0B1" d="M661.0 4.5L667.0 4.5L673.0 4.5L679.0 4.5L685.0 4.5L691.0 4.5L697.0 4.5L703.0 4.5L709.0 4.5L715.0 4.5L721.0 4.5L727.0 4.5L733.0 4.5L739.0 4.5L745.0 4.5L751.0 4.5L757.0 4.5L763.0 4.5L769.0 4.5L775.0 4.5L781.0 4.5L787.0 4.5L793.0 4.5L799.0 4.5L805.0 4.5L811.0 4.5L817.0 4.5L823.0 4.5L823.0 10.5L823.0 16.5L823.0 22.6L823.0 28.6L823.0 34.6L823.0 40.6L823.0 46.6L823.0 52.6L823.0 58.7L823.0 64.7L823.0 70.7L823.0 76.7L823.0 82.7L823.0 86.6L817.0 85.1L811.0 83.6L807.8 82.7L805.0 82.0L799.0 80.4L793.0 78.7L787.0 76.9L786.3 76.7L781.0 75.1L775.0 73.2L769.0 71.1L767.8 70.7L763.0 69.0L757.0 66.7L752.1 64.7L751.0 64.2L745.0 61.7L739.0 58.9L738.4 58.7L733.0 56.1L727.0 53.0L726.4 52.6L721.0 49.8L715.5 46.6L715.0 46.3L709.0 42.7L705.7 40.6L703.0 38.9L697.0 34.9L696.6 34.6L691.0 30.7L688.2 28.6L685.0 26.2L680.2 22.6L679.0 21.6L673.0 16.7L672.8 16.5L667.0 11.7L665.7 10.5L661.0 6.4L658.9 4.5Z"/>
<path fill="#74C5A2" d="M685.0 4.5L691.0 4.5L697.0 4.5L703.0 4.5L709.0 4.5L715.0 4.5L721.0 4.5L727.0 4.5L733.0 4.5L739.0 4.5L745.0 4.5L751.0 4.5L757.0 4.5L763.0 4.5L769.0 4.5L775.0 4.5L781.0 4.5L787.0 4.5L793.0 4.5L799.0 4.5L805.0 4.5L811.0 4.5L817.0 4.5L823.0 4.5L823.0 10.5L823.0 16.5L823.0 22.6L823.0 28.6L823.0 34.6L823.0 40.6L823.0 46.6L823.0 52.6L823.0 58.7L823.0 64.7L823.0 67.8L817.0 66.3L811.0 64.8L810.5 64.7L805.0 63.3L799.0 61.7L793.0 60.0L788.4 58.7L787.0 58.3L781.0 56.4L775.0 54.5L769.7 52.6L769.0 52.4L763.0 50.2L757.0 47.9L754.0 46.6L751.0 45.4L745.0 42.8L740.3 40.6L739.0 40.0L733.0 37.1L728.2 34.6L727.0 34.0L721.0 30.7L717.3 28.6L715.0 27.3L709.0 23.6L707.4 22.6L703.0 19.8L698.2 16.5L697.0 15.7L691.0 11.5L689.7 10.5L685.0 7.1L681.6 4.5Z"/>
<path fill="#7CC891" d="M709.0 4.5L715.0 4.5L721.0 4.5L727.0 4.5L733.0 4.5L739.0 4.5L745.0 4.5L751.0 4.5L757.0 4.5L763.0 4.5L769.0 4.5L775.0 4.5L781.0 4.5L787.0 4.5L793.0 4.5L799.0 4.5L805.0 4.5L811.0 4.5L817.0 4.5L823.0 4.5L823.0 10.5L823.0 16.5L823.0 22.6L823.0 28.6L823.0 34.6L823.0 40.6L823.0 46.6L823.0 49.6L817.0 48.2L811.0 46.8L810.2 46.6L805.0 45.4L799.0 43.8L793.0 42.2L787.4 40.6L787.0 40.5L781.0 38.7L775.0 36.7L769.0 34.7L768.8 34.6L763.0 32.5L757.0 30.2L753.1 28.6L751.0 27.7L745.0 25.1L739.5 22.6L739.0 22.3L733.0 19.4L727.5 16.5L727.0 16.3L721.0 13.0L716.6 10.5L715.0 9.6L709.0 6.0L706.7 4.5Z"/>
<path fill="#84C880" d="M739.0 4.5L745.0 4.5L751.0 4.5L757.0 4.5L763.0 4.5L769.0 4.5L775.0 4.5L781.0 4.5L787.0 4.5L793.0 4.5L799.0 4.5L805.0 4.5L811.0 4.5L817.0 4.5L823.0 4.5L823.0 10.5L823.0 16.5L823.0 22.6L823.0 28.6L823.0 32.3L817.0 31.1L811.0 29.8L805.8 28.6L805.0 28.4L799.0 26.9L793.0 25.4L787.0 23.7L783.0 22.6L781.0 22.0L775.0 20.1L769.0 18.1L764.8 16.5L763.0 15.9L757.0 13.6L751.0 11.2L749.4 10.5L745.0 8.6L739.0 5.9L736.2 4.5Z"/>
<path fill="#8FC871" d="M775.0 4.5L781.0 4.5L787.0 4.5L793.0 4.5L799.0 4.5L805.0 4.5L811.0 4.5L817.0 4.5L823.0 4.5L823.0 10.5L823.0 16.0L817.0 14.9L811.0 13.7L805.0 12.5L799.0 11.1L796.6 10.5L793.0 9.6L787.0 8.1L781.0 6.4L775.0 4.5L774.9 4.5Z"/></g>
<rect x="116" y="5.2" width="279.4" height="335.4" fill="none" stroke="#4d4d4d" stroke-width="0.8"/>
<path d="M196 340.6 v-3 M196 5.2 v3" stroke="#4d4d4d" stroke-width="0.8"/>
<path d="M276 340.6 v-3 M276 5.2 v3" stroke="#4d4d4d" stroke-width="0.8"/>
<path d="M356 340.6 v-3 M356 5.2 v3" stroke="#4d4d4d" stroke-width="0.8"/>
<path d="M116 15.5 h3 M395.4 15.5 h-3" stroke="#4d4d4d" stroke-width="0.8"/>
<path d="M116 89.5 h3 M395.4 89.5 h-3" stroke="#4d4d4d" stroke-width="0.8"/>
<path d="M116 173.5 h3 M395.4 173.5 h-3" stroke="#4d4d4d" stroke-width="0.8"/>
<path d="M116 257.5 h3 M395.4 257.5 h-3" stroke="#4d4d4d" stroke-width="0.8"/>
<rect x="541" y="4.5" width="282" height="337" fill="none" stroke="#4d4d4d" stroke-width="0.8"/>
<path d="M621 341.5 v-3 M621 4.5 v3" stroke="#4d4d4d" stroke-width="0.8"/>
<path d="M702 341.5 v-3 M702 4.5 v3" stroke="#4d4d4d" stroke-width="0.8"/>
<path d="M782.5 341.5 v-3 M782.5 4.5 v3" stroke="#4d4d4d" stroke-width="0.8"/>
<path d="M541 14.5 h3 M823 14.5 h-3" stroke="#4d4d4d" stroke-width="0.8"/>
<path d="M541 89 h3 M823 89 h-3" stroke="#4d4d4d" stroke-width="0.8"/>
<path d="M541 173 h3 M823 173 h-3" stroke="#4d4d4d" stroke-width="0.8"/>
<path d="M541 257.5 h3 M823 257.5 h-3" stroke="#4d4d4d" stroke-width="0.8"/>
<text x="108" y="25.3" font-size="22.5" text-anchor="end" font-family='"Liberation Serif", "DejaVu Serif", serif' fill="#1a1a1a" stroke="#1a1a1a" stroke-width="0.25" >0.0150</text>
<text x="532.5" y="25.3" font-size="22.5" text-anchor="end" font-family='"Liberation Serif", "DejaVu Serif", serif' fill="#1a1a1a" stroke="#1a1a1a" stroke-width="0.25" >0.0150</text>
<text x="108" y="97.3" font-size="22.5" text-anchor="end" font-family='"Liberation Serif", "DejaVu Serif", serif' fill="#1a1a1a" stroke="#1a1a1a" stroke-width="0.25" >0.0125</text>
<text x="532.5" y="97.3" font-size="22.5" text-anchor="end" font-family='"Liberation Serif", "DejaVu Serif", serif' fill="#1a1a1a" stroke="#1a1a1a" stroke-width="0.25" >0.0125</text>
<text x="108" y="181.3" font-size="22.5" text-anchor="end" font-family='"Liberation Serif", "DejaVu Serif", serif' fill="#1a1a1a" stroke="#1a1a1a" stroke-width="0.25" >0.0100</text>
<text x="532.5" y="181.3" font-size="22.5" text-anchor="end" font-family='"Liberation Serif", "DejaVu Serif", serif' fill="#1a1a1a" stroke="#1a1a1a" stroke-width="0.25" >0.0100</text>
<text x="108" y="265.3" font-size="22.5" text-anchor="end" font-family='"Liberation Serif", "DejaVu Serif", serif' fill="#1a1a1a" stroke="#1a1a1a" stroke-width="0.25" >0.0075</text>
<text x="532.5" y="265.3" font-size="22.5" text-anchor="end" font-family='"Liberation Serif", "DejaVu Serif", serif' fill="#1a1a1a" stroke="#1a1a1a" stroke-width="0.25" >0.0075</text>
<text x="108" y="348.8" font-size="22.5" text-anchor="end" font-family='"Liberation Serif", "DejaVu Serif", serif' fill="#1a1a1a" stroke="#1a1a1a" stroke-width="0.25" >0.0050</text>
<text x="532.5" y="348.8" font-size="22.5" text-anchor="end" font-family='"Liberation Serif", "DejaVu Serif", serif' fill="#1a1a1a" stroke="#1a1a1a" stroke-width="0.25" >0.0050</text>
<text x="114.5" y="368.9" font-size="22.5" text-anchor="middle" font-family='"Liberation Serif", "DejaVu Serif", serif' fill="#1a1a1a" stroke="#1a1a1a" stroke-width="0.25" >0.08</text>
<text x="195.4" y="368.9" font-size="22.5" text-anchor="middle" font-family='"Liberation Serif", "DejaVu Serif", serif' fill="#1a1a1a" stroke="#1a1a1a" stroke-width="0.25" >0.10</text>
<text x="276.7" y="368.9" font-size="22.5" text-anchor="middle" font-family='"Liberation Serif", "DejaVu Serif", serif' fill="#1a1a1a" stroke="#1a1a1a" stroke-width="0.25" >0.12</text>
<text x="356.8" y="368.9" font-size="22.5" text-anchor="middle" font-family='"Liberation Serif", "DejaVu Serif", serif' fill="#1a1a1a" stroke="#1a1a1a" stroke-width="0.25" >0.14</text>
<text x="541.5" y="368.7" font-size="22.5" text-anchor="middle" font-family='"Liberation Serif", "DejaVu Serif", serif' fill="#1a1a1a" stroke="#1a1a1a" stroke-width="0.25" >0.08</text>
<text x="616.5" y="368.7" font-size="22.5" text-anchor="middle" font-family='"Liberation Serif", "DejaVu Serif", serif' fill="#1a1a1a" stroke="#1a1a1a" stroke-width="0.25" >0.10</text>
<text x="696" y="368.7" font-size="22.5" text-anchor="middle" font-family='"Liberation Serif", "DejaVu Serif", serif' fill="#1a1a1a" stroke="#1a1a1a" stroke-width="0.25" >0.12</text>
<text x="777" y="368.7" font-size="22.5" text-anchor="middle" font-family='"Liberation Serif", "DejaVu Serif", serif' fill="#1a1a1a" stroke="#1a1a1a" stroke-width="0.25" >0.14</text>
<g transform="translate(29,196.5) rotate(-90)"><text x="0" y="0" font-size="35" font-style="italic" font-family='"Liberation Serif", "DejaVu Serif", serif' fill="#111">t</text><text x="15.5" y="5.5" font-size="46" font-style="italic" font-family='"Liberation Serif", "DejaVu Serif", serif' fill="#111">/</text><text x="31" y="0" font-size="35" font-style="italic" font-family='"Liberation Serif", "DejaVu Serif", serif' fill="#111">L</text></g>
<g transform="translate(459.5,195) rotate(-90)"><text x="0" y="0" font-size="35" font-style="italic" font-family='"Liberation Serif", "DejaVu Serif", serif' fill="#111">t</text><text x="15.5" y="5.5" font-size="46" font-style="italic" font-family='"Liberation Serif", "DejaVu Serif", serif' fill="#111">/</text><text x="31" y="0" font-size="35" font-style="italic" font-family='"Liberation Serif", "DejaVu Serif", serif' fill="#111">L</text></g>
<g transform="translate(233.5,404.7)"><text x="0" y="0" font-size="34" font-style="italic" font-family='"Liberation Serif", "DejaVu Serif", serif' fill="#111">l</text><text x="11.8" y="6.3" font-size="45" font-style="italic" font-family='"Liberation Serif", "DejaVu Serif", serif' fill="#111">/</text><text x="28" y="0" font-size="34" font-style="italic" font-family='"Liberation Serif", "DejaVu Serif", serif' fill="#111">L</text></g>
<g transform="translate(663.5,404.7)"><text x="0" y="0" font-size="34" font-style="italic" font-family='"Liberation Serif", "DejaVu Serif", serif' fill="#111">l</text><text x="11.8" y="6.3" font-size="45" font-style="italic" font-family='"Liberation Serif", "DejaVu Serif", serif' fill="#111">/</text><text x="28" y="0" font-size="34" font-style="italic" font-family='"Liberation Serif", "DejaVu Serif", serif' fill="#111">L</text></g>
<text x="2.2" y="405.6" font-size="27.5" font-weight="bold" font-family='"Liberation Sans", "DejaVu Sans", sans-serif' fill="#000">(a)</text>
<text x="441.7" y="405.6" font-size="27.5" font-weight="bold" font-family='"Liberation Sans", "DejaVu Sans", sans-serif' fill="#000">(b)</text>
<text x="338" y="117.5" font-size="17.5" text-anchor="middle" font-family='"Liberation Serif", "DejaVu Serif", serif' fill="#1c1c1c" fill-opacity="0.9" stroke="#1c1c1c" stroke-opacity="0.9" stroke-width="0.2">first cycle</text>
<text x="338" y="139.2" font-size="17.5" text-anchor="middle" font-family='"Liberation Serif", "DejaVu Serif", serif' fill="#1c1c1c" fill-opacity="0.9" stroke="#1c1c1c" stroke-opacity="0.9" stroke-width="0.2">failure</text>
<text x="346.5" y="237.3" font-size="17.5" text-anchor="middle" font-family='"Liberation Serif", "DejaVu Serif", serif' fill="#1c1c1c" fill-opacity="0.9" stroke="#1c1c1c" stroke-opacity="0.9" stroke-width="0.2">10,000 cycles</text>
<text x="347" y="259.6" font-size="17.5" text-anchor="middle" font-family='"Liberation Serif", "DejaVu Serif", serif' fill="#1c1c1c" fill-opacity="0.9" stroke="#1c1c1c" stroke-opacity="0.9" stroke-width="0.2">failure</text>
<text x="332" y="309.8" font-size="22.5" text-anchor="middle" font-family='"Liberation Serif", "DejaVu Serif", serif' fill="#1c1c1c" fill-opacity="0.9" stroke="#1c1c1c" stroke-opacity="0.9" stroke-width="0.2">durable BAM</text>
<text x="332" y="335.8" font-size="22.5" text-anchor="middle" font-family='"Liberation Serif", "DejaVu Serif", serif' fill="#1c1c1c" fill-opacity="0.9" stroke="#1c1c1c" stroke-opacity="0.9" stroke-width="0.2">domain</text>
<text x="725.5" y="72.9" font-size="17.5" text-anchor="middle" font-family='"Liberation Serif", "DejaVu Serif", serif' fill="#1c1c1c" fill-opacity="0.9" stroke="#1c1c1c" stroke-opacity="0.9" stroke-width="0.2">first cycle</text>
<text x="725.5" y="95" font-size="17.5" text-anchor="middle" font-family='"Liberation Serif", "DejaVu Serif", serif' fill="#1c1c1c" fill-opacity="0.9" stroke="#1c1c1c" stroke-opacity="0.9" stroke-width="0.2">failure</text>
<text x="749.5" y="184.3" font-size="17.5" text-anchor="middle" font-family='"Liberation Serif", "DejaVu Serif", serif' fill="#1c1c1c" fill-opacity="0.9" stroke="#1c1c1c" stroke-opacity="0.9" stroke-width="0.2">10,000 cycles</text>
<text x="749" y="206.8" font-size="17.5" text-anchor="middle" font-family='"Liberation Serif", "DejaVu Serif", serif' fill="#1c1c1c" fill-opacity="0.9" stroke="#1c1c1c" stroke-opacity="0.9" stroke-width="0.2">failure</text>
<text x="713" y="325.7" font-size="22.5" text-anchor="middle" font-family='"Liberation Serif", "DejaVu Serif", serif' fill="#1c1c1c" fill-opacity="0.9" stroke="#1c1c1c" stroke-opacity="0.9" stroke-width="0.2">durable BAM domain</text>
<path d="M115.3 339.5 L118.5 333.2 L121.7 326.8 L124.9 320.3 L128.2 313.8 L131.5 307.3 L134.9 300.8 L138.3 294.4 L141.9 288.0 L145.5 281.7 L149.3 275.5 L153.3 269.4 L157.4 263.5 L161.7 257.7 L166.3 252.1 L171.0 246.8 L176.0 241.6 L181.1 236.6 L186.5 231.7 L191.9 227.0 L197.5 222.3 L203.1 217.8 L208.9 213.3 L214.6 208.8 L220.4 204.4 L226.2 199.9 L232.0 195.4 L237.7 190.8 L243.3 186.2 L248.9 181.4 L254.3 176.5 L259.5 171.5 L264.6 166.3 L269.4 161.0 L274.0 155.4 L278.2 149.7 L282.2 143.8 L285.8 137.6 L289.0 131.2 L292.0 124.6 L294.7 117.8 L297.2 111.0 L299.6 104.1 L302.0 97.1 L304.4 90.1 L306.8 83.2 L309.3 76.3 L312.0 69.6 L314.9 62.9 L318.1 56.4 L321.5 50.1 L325.3 44.1 L329.4 38.3 L333.9 32.8 L338.8 27.6 L344.2 22.7 L350.0 18.2 L356.0 14.0 L362.4 10.1 L368.9 6.5" fill="none" stroke="#000" stroke-width="2.7" stroke-dasharray="14 6"/>
<path d="M204.2 341.1 L205.0 336.4 L206.1 331.7 L207.4 327.2 L209.0 322.8 L210.7 318.4 L212.6 314.2 L214.7 310.1 L217.0 306.0 L219.4 302.0 L222.0 298.1 L224.6 294.3 L227.4 290.5 L230.2 286.8 L233.2 283.1 L236.2 279.5 L239.2 275.9 L242.3 272.4 L245.4 268.9 L248.5 265.4 L251.7 261.9 L255.0 258.5 L258.2 255.2 L261.5 251.9 L264.9 248.6 L268.3 245.4 L271.7 242.2 L275.2 239.1 L278.7 236.0 L282.3 233.0 L285.9 230.0 L289.5 227.1 L293.2 224.2 L296.9 221.4 L300.7 218.6 L304.3 215.6 L307.8 212.6 L311.1 209.4 L314.2 206.0 L317.2 202.5 L320.1 198.8 L322.9 195.0 L325.7 191.2 L328.5 187.3 L331.4 183.6 L334.4 179.9 L337.6 176.5 L341.0 173.2 L344.5 170.3 L348.3 167.8 L352.3 165.5 L356.5 163.5 L360.8 161.8 L365.2 160.3 L369.8 158.9 L374.3 157.6 L378.9 156.4 L383.4 155.0 L387.8 153.4 L392.0 151.6" fill="none" stroke="#E4141C" stroke-width="2.7" stroke-dasharray="14 6"/>
<path d="M541.6 236.1 L545.7 232.5 L549.8 228.8 L553.9 225.1 L558.0 221.3 L562.0 217.5 L566.0 213.7 L570.0 209.9 L573.9 206.0 L577.8 202.0 L581.6 198.1 L585.4 194.0 L589.2 190.0 L592.9 185.9 L596.5 181.7 L600.1 177.5 L603.6 173.3 L607.1 169.0 L610.5 164.7 L613.8 160.3 L617.1 155.9 L620.4 151.4 L623.6 147.0 L626.8 142.5 L630.0 138.0 L633.1 133.4 L636.3 128.9 L639.4 124.3 L642.6 119.8 L645.7 115.2 L648.9 110.7 L652.1 106.2 L655.3 101.7 L658.6 97.3 L661.9 92.8 L665.3 88.5 L668.7 84.2 L672.2 79.9 L675.8 75.8 L679.5 71.7 L683.3 67.7 L687.2 63.8 L691.2 60.0 L695.3 56.2 L699.4 52.6 L703.6 48.9 L707.8 45.4 L712.1 41.9 L716.5 38.4 L720.9 35.1 L725.3 31.8 L729.8 28.5 L734.4 25.4 L739.0 22.4 L743.6 19.4 L748.4 16.6 L753.2 13.9 L758.0 11.3 L763.0 8.8 L767.9 6.4" fill="none" stroke="#000" stroke-width="2.7" stroke-dasharray="14 6"/>
<path d="M541.6 285.8 L545.0 280.5 L548.7 275.5 L552.7 270.9 L556.8 266.5 L561.2 262.4 L565.8 258.6 L570.6 255.0 L575.5 251.6 L580.5 248.4 L585.7 245.4 L591.0 242.5 L596.4 239.8 L601.8 237.1 L607.3 234.5 L612.9 232.0 L618.4 229.5 L624.0 227.0 L629.5 224.5 L635.0 222.0 L640.5 219.4 L645.8 216.7 L651.0 213.8 L656.1 210.7 L660.9 207.2 L665.5 203.4 L669.8 199.2 L673.9 194.7 L677.9 190.0 L682.0 185.5 L686.4 181.3 L690.9 177.3 L695.6 173.5 L700.2 169.7 L704.8 165.8 L709.2 161.7 L713.6 157.6 L718.0 153.4 L722.3 149.2 L726.6 144.9 L730.9 140.6 L735.2 136.4 L739.5 132.1 L743.8 127.9 L748.2 123.8 L752.6 119.7 L757.2 115.7 L761.7 111.8 L766.4 108.0 L771.2 104.4 L776.0 100.8 L780.9 97.4 L785.9 94.0 L791.0 90.8 L796.2 87.7 L801.4 84.7 L806.7 81.8 L812.1 79.1 L817.6 76.4 L823.1 73.9" fill="none" stroke="#E4141C" stroke-width="2.7" stroke-dasharray="14 6"/>
<rect x="861.3" y="8.4" width="12.2" height="335" fill="url(#cb)" stroke="#4d4d4d" stroke-width="0.6"/>
<text x="877.3" y="16.5" font-size="22.5" text-anchor="start" font-family='"Liberation Serif", "DejaVu Serif", serif' fill="#1a1a1a" stroke="#1a1a1a" stroke-width="0.25" >0.45</text>
<text x="877.3" y="83.6" font-size="22.5" text-anchor="start" font-family='"Liberation Serif", "DejaVu Serif", serif' fill="#1a1a1a" stroke="#1a1a1a" stroke-width="0.25" >0.45</text>
<text x="877.3" y="149.5" font-size="22.5" text-anchor="start" font-family='"Liberation Serif", "DejaVu Serif", serif' fill="#1a1a1a" stroke="#1a1a1a" stroke-width="0.25" >0.40</text>
<text x="877.3" y="216.5" font-size="22.5" text-anchor="start" font-family='"Liberation Serif", "DejaVu Serif", serif' fill="#1a1a1a" stroke="#1a1a1a" stroke-width="0.25" >0.35</text>
<text x="877.3" y="283.5" font-size="22.5" text-anchor="start" font-family='"Liberation Serif", "DejaVu Serif", serif' fill="#1a1a1a" stroke="#1a1a1a" stroke-width="0.25" >0.30</text>
<text x="877.3" y="350.9" font-size="22.5" text-anchor="start" font-family='"Liberation Serif", "DejaVu Serif", serif' fill="#1a1a1a" stroke="#1a1a1a" stroke-width="0.25" >0.25</text>
<path d="M873.5 75.2 h-3" stroke="#4d4d4d" stroke-width="0.8"/>
<path d="M873.5 142.2 h-3" stroke="#4d4d4d" stroke-width="0.8"/>
<path d="M873.5 209.2 h-3" stroke="#4d4d4d" stroke-width="0.8"/>
<path d="M873.5 276.2 h-3" stroke="#4d4d4d" stroke-width="0.8"/>
<g transform="translate(848.7,262) rotate(-90)"><text x="0" y="0" font-size="24" font-family='"Liberation Serif", "DejaVu Serif", serif' fill="#1a1a1a"><tspan font-style="italic">η</tspan> = E<tspan dy="5">min</tspan><tspan dy="-5"> / E</tspan><tspan dy="5">max</tspan></text></g>
<path d="M153.9 74.8 L183.9 22.3 L186.8 24.2 L161.0 70.7 L196.4 70.7 L198.8 74.8 Z" fill="none" stroke="#111" stroke-width="1.3" stroke-linejoin="miter"/>
<path d="M161.0 70.7 L171.5 70.7 L171.5 74.8 L161.0 74.8 Z" fill="#5a5a5a" stroke="#5a5a5a" stroke-width="0.3" stroke-linejoin="miter"/>
<path d="M194.2 74.8 L199.7 84.3 L148.0 84.3 L145.6 88.5 L206.7 88.5 L198.8 74.8" fill="none" stroke="#111" stroke-width="1.3" stroke-linejoin="miter"/>
<path d="M194.2 74.8 L198.8 74.8 L203.2 82.4 L198.9 83.9 Z" fill="#5a5a5a" stroke="#5a5a5a" stroke-width="0.3" stroke-linejoin="miter"/>
<path d="M196.4 70.7 L186.2 53.0" fill="none" stroke="#111" stroke-width="1.3" stroke-linejoin="miter"/>
<path d="M192.1 45.0 L217.2 88.5 L221.9 88.5 L191.3 35.5" fill="none" stroke="#111" stroke-width="1.3" stroke-linejoin="miter"/>
<path d="M191.3 35.5 L171.0 70.7" fill="none" stroke="#111" stroke-width="1.3" stroke-linejoin="miter"/>
<path d="M187.3 43.0 L192.1 45.0 L186.7 53.0 L182.9 50.5 Z" fill="#5a5a5a" stroke="#5a5a5a" stroke-width="0.3" stroke-linejoin="miter"/>
<path d="M145.6 88.5 L145.6 119.6" stroke="#222" stroke-width="0.6"/>
<path d="M221.9 88.5 L221.9 119.6" stroke="#222" stroke-width="0.6"/>
<path d="M183.0 117.2 L150.6 117.2" stroke="#111" stroke-width="0.7"/><path d="M145.6 117.2 L150.6 115.6 L150.6 118.8 Z" fill="#111"/>
<path d="M183.0 117.2 L216.9 117.2" stroke="#111" stroke-width="0.7"/><path d="M221.9 117.2 L216.9 118.8 L216.9 115.6 Z" fill="#111"/>
<path d="M161.0 70.7 L161.0 114.0" stroke="#222" stroke-width="0.6"/>
<path d="M171.5 70.7 L171.5 114.0" stroke="#222" stroke-width="0.6"/>
<path d="M148.5 110.2 L156.0 110.2" stroke="#111" stroke-width="0.7"/><path d="M161.0 110.2 L156.0 111.8 L156.0 108.6 Z" fill="#111"/>
<path d="M182.0 110.2 L176.5 110.2" stroke="#111" stroke-width="0.7"/><path d="M171.5 110.2 L176.5 108.6 L176.5 111.8 Z" fill="#111"/>
<path d="M161.0 110.2 L171.5 110.2" stroke="#222" stroke-width="0.5"/>
<path d="M155.9 70.7 L135.4 70.7" stroke="#222" stroke-width="0.6"/>
<path d="M153.9 74.8 L135.4 74.8" stroke="#222" stroke-width="0.6"/>
<path d="M137.2 62.5 L137.2 66.2" stroke="#111" stroke-width="0.7"/><path d="M137.2 70.7 L135.8 66.2 L138.6 66.2 Z" fill="#111"/>
<path d="M137.2 87.8 L137.2 79.3" stroke="#111" stroke-width="0.7"/><path d="M137.2 74.8 L138.6 79.3 L135.8 79.3 Z" fill="#111"/>
<text x="135.5" y="43" font-size="20.5" font-family='"Liberation Serif", "DejaVu Serif", serif'  text-anchor="start" fill="#111">G</text><text x="151.5" y="34.5" font-size="13" font-family='"Liberation Serif", "DejaVu Serif", serif'  text-anchor="start" fill="#111">0</text>
<text x="140.5" y="64.5" font-size="19" font-family='"Liberation Serif", "DejaVu Serif", serif' font-style="italic" text-anchor="start" fill="#111">t</text>
<text x="161.5" y="106.5" font-size="20" font-family='"Liberation Serif", "DejaVu Serif", serif' font-style="italic" text-anchor="start" fill="#111">l</text>
<text x="190" y="108" font-size="20" font-family='"Liberation Serif", "DejaVu Serif", serif' font-style="italic" text-anchor="start" fill="#111">L</text>
<path d="M568.9 68.9 L598.9 16.4 L600.7 17.6 L573.2 66.4 L611.4 66.4 L613.8 68.9 Z" fill="none" stroke="#111" stroke-width="1.05" stroke-linejoin="miter"/>
<path d="M573.2 66.4 L586.5 66.4 L586.5 68.9 L573.2 68.9 Z" fill="#8a6a50" stroke="#8a6a50" stroke-width="0.3" stroke-linejoin="miter"/>
<path d="M608.2 68.9 L614.7 80.1 L562.0 80.1 L560.6 82.6 L621.7 82.6 L613.8 68.9" fill="none" stroke="#111" stroke-width="1.05" stroke-linejoin="miter"/>
<path d="M609.1 69.4 L615.0 79.1" fill="none" stroke="#8a6a50" stroke-width="1.5" stroke-linejoin="miter"/>
<path d="M611.4 66.4 L600.3 47.1" fill="none" stroke="#111" stroke-width="1.05" stroke-linejoin="miter"/>
<path d="M608.9 39.1 L634.0 82.6 L636.9 82.6 L606.3 29.6" fill="none" stroke="#111" stroke-width="1.05" stroke-linejoin="miter"/>
<path d="M606.3 29.6 L585.1 66.4" fill="none" stroke="#111" stroke-width="1.05" stroke-linejoin="miter"/>
<path d="M602.7 37.6 L597.8 46.1" fill="none" stroke="#8a6a50" stroke-width="1.5" stroke-linejoin="miter"/>
<path d="M560.6 82.6 L560.6 113.7" stroke="#222" stroke-width="0.6"/>
<path d="M636.9 82.6 L636.9 113.7" stroke="#222" stroke-width="0.6"/>
<path d="M598.0 111.3 L565.6 111.3" stroke="#111" stroke-width="0.7"/><path d="M560.6 111.3 L565.6 109.7 L565.6 112.9 Z" fill="#111"/>
<path d="M598.0 111.3 L631.9 111.3" stroke="#111" stroke-width="0.7"/><path d="M636.9 111.3 L631.9 112.9 L631.9 109.7 Z" fill="#111"/>
<path d="M573.2 66.4 L573.2 108.1" stroke="#222" stroke-width="0.6"/>
<path d="M586.5 66.4 L586.5 108.1" stroke="#222" stroke-width="0.6"/>
<path d="M563.5 104.3 L568.2 104.3" stroke="#111" stroke-width="0.7"/><path d="M573.2 104.3 L568.2 105.9 L568.2 102.7 Z" fill="#111"/>
<path d="M597.0 104.3 L591.5 104.3" stroke="#111" stroke-width="0.7"/><path d="M586.5 104.3 L591.5 102.7 L591.5 105.9 Z" fill="#111"/>
<path d="M573.2 104.3 L586.5 104.3" stroke="#222" stroke-width="0.5"/>
<path d="M570.9 66.4 L550.4 66.4" stroke="#222" stroke-width="0.6"/>
<path d="M568.9 68.9 L550.4 68.9" stroke="#222" stroke-width="0.6"/>
<path d="M552.2 56.6 L552.2 61.9" stroke="#111" stroke-width="0.7"/><path d="M552.2 66.4 L550.8 61.9 L553.6 61.9 Z" fill="#111"/>
<path d="M552.2 81.9 L552.2 73.4" stroke="#111" stroke-width="0.7"/><path d="M552.2 68.9 L553.6 73.4 L550.8 73.4 Z" fill="#111"/>
<text x="549.5" y="36.5" font-size="20.5" font-family='"Liberation Serif", "DejaVu Serif", serif'  text-anchor="start" fill="#111">G</text><text x="565.5" y="28" font-size="13" font-family='"Liberation Serif", "DejaVu Serif", serif'  text-anchor="start" fill="#111">1</text>
<text x="555" y="64" font-size="19" font-family='"Liberation Serif", "DejaVu Serif", serif' font-style="italic" text-anchor="start" fill="#111">t</text>
<text x="576.5" y="101.5" font-size="20" font-family='"Liberation Serif", "DejaVu Serif", serif' font-style="italic" text-anchor="start" fill="#111">l</text>
<text x="605.5" y="103" font-size="20" font-family='"Liberation Serif", "DejaVu Serif", serif' font-style="italic" text-anchor="start" fill="#111">L</text>
</svg>
</body></html>
